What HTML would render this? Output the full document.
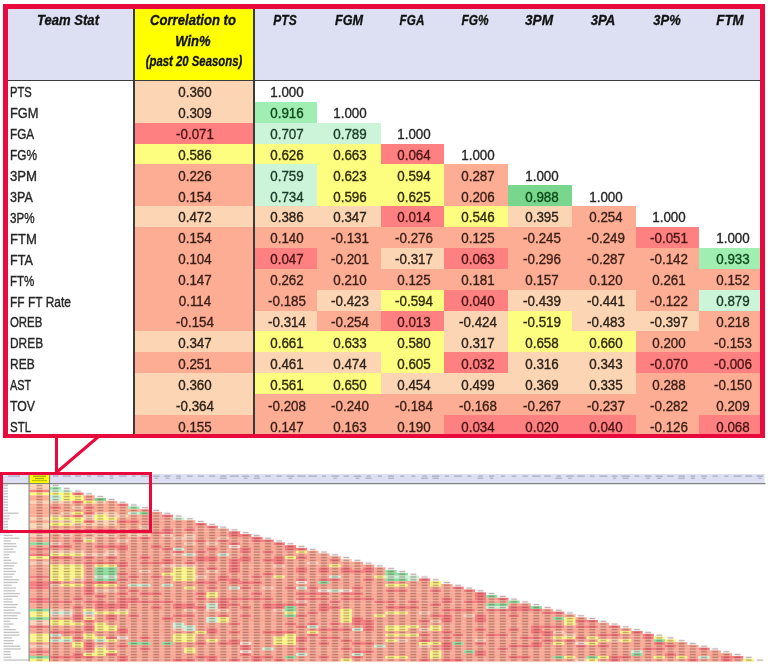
<!DOCTYPE html><html><head><meta charset="utf-8"><style>
html,body{margin:0;padding:0;background:#fff;}
body{width:768px;height:664px;position:relative;overflow:hidden;font-family:"Liberation Sans",sans-serif;}
.a{position:absolute;}
.t{position:absolute;white-space:nowrap;font-size:14px;-webkit-text-stroke:0.35px currentColor;line-height:20px;text-align:center;}
.l{position:absolute;white-space:nowrap;color:#262626;font-size:14px;-webkit-text-stroke:0.35px currentColor;line-height:20px;left:9px;transform-origin:0 50%;}
.h{position:absolute;white-space:nowrap;color:#111;font-size:14px;-webkit-text-stroke:0.3px currentColor;font-weight:bold;font-style:italic;text-align:center;line-height:20px;}

#wrap{position:absolute;left:0;top:0;width:768px;height:664px;filter:blur(0.35px);}
</style></head><body><div id="wrap">
<div class="a" style="left:8px;top:9px;width:752px;height:71.5px;background:#DCE0F2"></div>
<div class="a" style="left:134.5px;top:9px;width:118.5px;height:71.5px;background:#FFFF00"></div>
<div class="a" style="left:134.5px;top:81.00px;width:118.5px;height:20.92px;background:#FCD5B4"></div>
<div class="a" style="left:134.5px;top:101.87px;width:118.5px;height:20.92px;background:#FCD5B4"></div>
<div class="a" style="left:254.50px;top:101.87px;width:62.70px;height:20.92px;background:#A0EEB2"></div>
<div class="a" style="left:134.5px;top:122.74px;width:118.5px;height:20.92px;background:#FF8080"></div>
<div class="a" style="left:254.50px;top:122.74px;width:62.70px;height:20.92px;background:#CBF4D9"></div>
<div class="a" style="left:317.20px;top:122.74px;width:63.60px;height:20.92px;background:#CBF4D9"></div>
<div class="a" style="left:134.5px;top:143.61px;width:118.5px;height:20.92px;background:#FDFD80"></div>
<div class="a" style="left:254.50px;top:143.61px;width:62.70px;height:20.92px;background:#FDFD80"></div>
<div class="a" style="left:317.20px;top:143.61px;width:63.60px;height:20.92px;background:#FDFD80"></div>
<div class="a" style="left:380.80px;top:143.61px;width:63.60px;height:20.92px;background:#FF8080"></div>
<div class="a" style="left:134.5px;top:164.48px;width:118.5px;height:20.92px;background:#FCAD94"></div>
<div class="a" style="left:254.50px;top:164.48px;width:62.70px;height:20.92px;background:#CBF4D9"></div>
<div class="a" style="left:317.20px;top:164.48px;width:63.60px;height:20.92px;background:#FDFD80"></div>
<div class="a" style="left:380.80px;top:164.48px;width:63.60px;height:20.92px;background:#FDFD80"></div>
<div class="a" style="left:444.40px;top:164.48px;width:63.90px;height:20.92px;background:#FCAD94"></div>
<div class="a" style="left:134.5px;top:185.35px;width:118.5px;height:20.92px;background:#FCAD94"></div>
<div class="a" style="left:254.50px;top:185.35px;width:62.70px;height:20.92px;background:#CBF4D9"></div>
<div class="a" style="left:317.20px;top:185.35px;width:63.60px;height:20.92px;background:#FDFD80"></div>
<div class="a" style="left:380.80px;top:185.35px;width:63.60px;height:20.92px;background:#FDFD80"></div>
<div class="a" style="left:444.40px;top:185.35px;width:63.90px;height:20.92px;background:#FCAD94"></div>
<div class="a" style="left:508.30px;top:185.35px;width:63.90px;height:20.92px;background:#78D78C"></div>
<div class="a" style="left:134.5px;top:206.22px;width:118.5px;height:20.92px;background:#FCD5B4"></div>
<div class="a" style="left:254.50px;top:206.22px;width:62.70px;height:20.92px;background:#FCD5B4"></div>
<div class="a" style="left:317.20px;top:206.22px;width:63.60px;height:20.92px;background:#FCD5B4"></div>
<div class="a" style="left:380.80px;top:206.22px;width:63.60px;height:20.92px;background:#FF8080"></div>
<div class="a" style="left:444.40px;top:206.22px;width:63.90px;height:20.92px;background:#FDFD80"></div>
<div class="a" style="left:508.30px;top:206.22px;width:63.90px;height:20.92px;background:#FCD5B4"></div>
<div class="a" style="left:572.20px;top:206.22px;width:63.70px;height:20.92px;background:#FCAD94"></div>
<div class="a" style="left:134.5px;top:227.09px;width:118.5px;height:20.92px;background:#FCAD94"></div>
<div class="a" style="left:254.50px;top:227.09px;width:62.70px;height:20.92px;background:#FCAD94"></div>
<div class="a" style="left:317.20px;top:227.09px;width:63.60px;height:20.92px;background:#FCAD94"></div>
<div class="a" style="left:380.80px;top:227.09px;width:63.60px;height:20.92px;background:#FCAD94"></div>
<div class="a" style="left:444.40px;top:227.09px;width:63.90px;height:20.92px;background:#FCAD94"></div>
<div class="a" style="left:508.30px;top:227.09px;width:63.90px;height:20.92px;background:#FCAD94"></div>
<div class="a" style="left:572.20px;top:227.09px;width:63.70px;height:20.92px;background:#FCAD94"></div>
<div class="a" style="left:635.90px;top:227.09px;width:63.10px;height:20.92px;background:#FF8080"></div>
<div class="a" style="left:134.5px;top:247.96px;width:118.5px;height:20.92px;background:#FCAD94"></div>
<div class="a" style="left:254.50px;top:247.96px;width:62.70px;height:20.92px;background:#FF8080"></div>
<div class="a" style="left:317.20px;top:247.96px;width:63.60px;height:20.92px;background:#FCAD94"></div>
<div class="a" style="left:380.80px;top:247.96px;width:63.60px;height:20.92px;background:#FCD5B4"></div>
<div class="a" style="left:444.40px;top:247.96px;width:63.90px;height:20.92px;background:#FF8080"></div>
<div class="a" style="left:508.30px;top:247.96px;width:63.90px;height:20.92px;background:#FCAD94"></div>
<div class="a" style="left:572.20px;top:247.96px;width:63.70px;height:20.92px;background:#FCAD94"></div>
<div class="a" style="left:635.90px;top:247.96px;width:63.10px;height:20.92px;background:#FCAD94"></div>
<div class="a" style="left:699.00px;top:247.96px;width:61.00px;height:20.92px;background:#A0EEB2"></div>
<div class="a" style="left:134.5px;top:268.83px;width:118.5px;height:20.92px;background:#FCAD94"></div>
<div class="a" style="left:254.50px;top:268.83px;width:62.70px;height:20.92px;background:#FCAD94"></div>
<div class="a" style="left:317.20px;top:268.83px;width:63.60px;height:20.92px;background:#FCAD94"></div>
<div class="a" style="left:380.80px;top:268.83px;width:63.60px;height:20.92px;background:#FCAD94"></div>
<div class="a" style="left:444.40px;top:268.83px;width:63.90px;height:20.92px;background:#FCAD94"></div>
<div class="a" style="left:508.30px;top:268.83px;width:63.90px;height:20.92px;background:#FCAD94"></div>
<div class="a" style="left:572.20px;top:268.83px;width:63.70px;height:20.92px;background:#FCAD94"></div>
<div class="a" style="left:635.90px;top:268.83px;width:63.10px;height:20.92px;background:#FCAD94"></div>
<div class="a" style="left:699.00px;top:268.83px;width:61.00px;height:20.92px;background:#FCAD94"></div>
<div class="a" style="left:134.5px;top:289.70px;width:118.5px;height:20.92px;background:#FCAD94"></div>
<div class="a" style="left:254.50px;top:289.70px;width:62.70px;height:20.92px;background:#FCAD94"></div>
<div class="a" style="left:317.20px;top:289.70px;width:63.60px;height:20.92px;background:#FCD5B4"></div>
<div class="a" style="left:380.80px;top:289.70px;width:63.60px;height:20.92px;background:#FDFD80"></div>
<div class="a" style="left:444.40px;top:289.70px;width:63.90px;height:20.92px;background:#FF8080"></div>
<div class="a" style="left:508.30px;top:289.70px;width:63.90px;height:20.92px;background:#FCD5B4"></div>
<div class="a" style="left:572.20px;top:289.70px;width:63.70px;height:20.92px;background:#FCD5B4"></div>
<div class="a" style="left:635.90px;top:289.70px;width:63.10px;height:20.92px;background:#FCAD94"></div>
<div class="a" style="left:699.00px;top:289.70px;width:61.00px;height:20.92px;background:#CBF4D9"></div>
<div class="a" style="left:134.5px;top:310.57px;width:118.5px;height:20.92px;background:#FCAD94"></div>
<div class="a" style="left:254.50px;top:310.57px;width:62.70px;height:20.92px;background:#FCD5B4"></div>
<div class="a" style="left:317.20px;top:310.57px;width:63.60px;height:20.92px;background:#FCAD94"></div>
<div class="a" style="left:380.80px;top:310.57px;width:63.60px;height:20.92px;background:#FF8080"></div>
<div class="a" style="left:444.40px;top:310.57px;width:63.90px;height:20.92px;background:#FCD5B4"></div>
<div class="a" style="left:508.30px;top:310.57px;width:63.90px;height:20.92px;background:#FDFD80"></div>
<div class="a" style="left:572.20px;top:310.57px;width:63.70px;height:20.92px;background:#FCD5B4"></div>
<div class="a" style="left:635.90px;top:310.57px;width:63.10px;height:20.92px;background:#FCD5B4"></div>
<div class="a" style="left:699.00px;top:310.57px;width:61.00px;height:20.92px;background:#FCAD94"></div>
<div class="a" style="left:134.5px;top:331.44px;width:118.5px;height:20.92px;background:#FCD5B4"></div>
<div class="a" style="left:254.50px;top:331.44px;width:62.70px;height:20.92px;background:#FDFD80"></div>
<div class="a" style="left:317.20px;top:331.44px;width:63.60px;height:20.92px;background:#FDFD80"></div>
<div class="a" style="left:380.80px;top:331.44px;width:63.60px;height:20.92px;background:#FDFD80"></div>
<div class="a" style="left:444.40px;top:331.44px;width:63.90px;height:20.92px;background:#FCD5B4"></div>
<div class="a" style="left:508.30px;top:331.44px;width:63.90px;height:20.92px;background:#FDFD80"></div>
<div class="a" style="left:572.20px;top:331.44px;width:63.70px;height:20.92px;background:#FDFD80"></div>
<div class="a" style="left:635.90px;top:331.44px;width:63.10px;height:20.92px;background:#FCAD94"></div>
<div class="a" style="left:699.00px;top:331.44px;width:61.00px;height:20.92px;background:#FCAD94"></div>
<div class="a" style="left:134.5px;top:352.31px;width:118.5px;height:20.92px;background:#FCAD94"></div>
<div class="a" style="left:254.50px;top:352.31px;width:62.70px;height:20.92px;background:#FCD5B4"></div>
<div class="a" style="left:317.20px;top:352.31px;width:63.60px;height:20.92px;background:#FCD5B4"></div>
<div class="a" style="left:380.80px;top:352.31px;width:63.60px;height:20.92px;background:#FDFD80"></div>
<div class="a" style="left:444.40px;top:352.31px;width:63.90px;height:20.92px;background:#FF8080"></div>
<div class="a" style="left:508.30px;top:352.31px;width:63.90px;height:20.92px;background:#FCD5B4"></div>
<div class="a" style="left:572.20px;top:352.31px;width:63.70px;height:20.92px;background:#FCD5B4"></div>
<div class="a" style="left:635.90px;top:352.31px;width:63.10px;height:20.92px;background:#FF8080"></div>
<div class="a" style="left:699.00px;top:352.31px;width:61.00px;height:20.92px;background:#FF8080"></div>
<div class="a" style="left:134.5px;top:373.18px;width:118.5px;height:20.92px;background:#FCD5B4"></div>
<div class="a" style="left:254.50px;top:373.18px;width:62.70px;height:20.92px;background:#FDFD80"></div>
<div class="a" style="left:317.20px;top:373.18px;width:63.60px;height:20.92px;background:#FDFD80"></div>
<div class="a" style="left:380.80px;top:373.18px;width:63.60px;height:20.92px;background:#FCD5B4"></div>
<div class="a" style="left:444.40px;top:373.18px;width:63.90px;height:20.92px;background:#FCD5B4"></div>
<div class="a" style="left:508.30px;top:373.18px;width:63.90px;height:20.92px;background:#FCD5B4"></div>
<div class="a" style="left:572.20px;top:373.18px;width:63.70px;height:20.92px;background:#FCD5B4"></div>
<div class="a" style="left:635.90px;top:373.18px;width:63.10px;height:20.92px;background:#FCAD94"></div>
<div class="a" style="left:699.00px;top:373.18px;width:61.00px;height:20.92px;background:#FCAD94"></div>
<div class="a" style="left:134.5px;top:394.05px;width:118.5px;height:20.92px;background:#FCD5B4"></div>
<div class="a" style="left:254.50px;top:394.05px;width:62.70px;height:20.92px;background:#FCAD94"></div>
<div class="a" style="left:317.20px;top:394.05px;width:63.60px;height:20.92px;background:#FCAD94"></div>
<div class="a" style="left:380.80px;top:394.05px;width:63.60px;height:20.92px;background:#FCAD94"></div>
<div class="a" style="left:444.40px;top:394.05px;width:63.90px;height:20.92px;background:#FCAD94"></div>
<div class="a" style="left:508.30px;top:394.05px;width:63.90px;height:20.92px;background:#FCAD94"></div>
<div class="a" style="left:572.20px;top:394.05px;width:63.70px;height:20.92px;background:#FCAD94"></div>
<div class="a" style="left:635.90px;top:394.05px;width:63.10px;height:20.92px;background:#FCAD94"></div>
<div class="a" style="left:699.00px;top:394.05px;width:61.00px;height:20.92px;background:#FCAD94"></div>
<div class="a" style="left:134.5px;top:414.92px;width:118.5px;height:20.92px;background:#FCAD94"></div>
<div class="a" style="left:254.50px;top:414.92px;width:62.70px;height:20.92px;background:#FCAD94"></div>
<div class="a" style="left:317.20px;top:414.92px;width:63.60px;height:20.92px;background:#FCAD94"></div>
<div class="a" style="left:380.80px;top:414.92px;width:63.60px;height:20.92px;background:#FCAD94"></div>
<div class="a" style="left:444.40px;top:414.92px;width:63.90px;height:20.92px;background:#FF8080"></div>
<div class="a" style="left:508.30px;top:414.92px;width:63.90px;height:20.92px;background:#FF8080"></div>
<div class="a" style="left:572.20px;top:414.92px;width:63.70px;height:20.92px;background:#FF8080"></div>
<div class="a" style="left:635.90px;top:414.92px;width:63.10px;height:20.92px;background:#FCAD94"></div>
<div class="a" style="left:699.00px;top:414.92px;width:61.00px;height:20.92px;background:#FF8080"></div>
<div class="a" style="left:8px;top:79.8px;width:752px;height:1.3px;background:#3a3a3a"></div>
<div class="a" style="left:133px;top:9px;width:1.5px;height:425px;background:#3a3a3a"></div>
<div class="a" style="left:253px;top:9px;width:1.5px;height:425px;background:#3a3a3a"></div>
<div class="h" style="left:-31.70px;width:200px;top:9.50px;transform:scaleX(0.9335)">Team Stat</div>
<div class="h" style="left:93.45px;width:200px;top:9.50px;transform:scaleX(0.9358)">Correlation to</div>
<div class="h" style="left:93.05px;width:200px;top:31.10px;transform:scaleX(0.9291)">Win%</div>
<div class="h" style="left:93.55px;width:200px;top:50.70px;transform:scaleX(0.8110)">(past 20 Seasons)</div>
<div class="h" style="left:184.75px;width:200px;top:9.50px;transform:scaleX(0.8576)">PTS</div>
<div class="h" style="left:248.70px;width:200px;top:9.50px;transform:scaleX(0.9032)">FGM</div>
<div class="h" style="left:312.10px;width:200px;top:9.50px;transform:scaleX(0.8374)">FGA</div>
<div class="h" style="left:374.95px;width:200px;top:9.50px;transform:scaleX(0.8513)">FG%</div>
<div class="h" style="left:438.65px;width:200px;top:9.50px;transform:scaleX(0.9742)">3PM</div>
<div class="h" style="left:503.05px;width:200px;top:9.50px;transform:scaleX(0.9412)">3PA</div>
<div class="h" style="left:566.55px;width:200px;top:9.50px;transform:scaleX(0.9259)">3P%</div>
<div class="h" style="left:630.00px;width:200px;top:9.50px;transform:scaleX(0.9564)">FTM</div>
<div class="l" style="left:9.74px;top:82.30px;transform:scaleX(0.7982)">PTS</div>
<div class="t" style="left:134.50px;width:120px;top:81.90px;color:#2e2218;transform:scaleX(0.955)">0.360</div>
<div class="t" style="left:246.65px;width:80px;top:81.90px;color:#262626;transform:scaleX(0.955)">1.000</div>
<div class="l" style="left:9.74px;top:103.22px;transform:scaleX(0.9156)">FGM</div>
<div class="t" style="left:134.50px;width:120px;top:102.82px;color:#2e2218;transform:scaleX(0.955)">0.309</div>
<div class="t" style="left:246.65px;width:80px;top:102.82px;color:#0e4a1e;transform:scaleX(0.955)">0.916</div>
<div class="t" style="left:310.30px;width:80px;top:102.82px;color:#262626;transform:scaleX(0.955)">1.000</div>
<div class="l" style="left:9.74px;top:124.14px;transform:scaleX(0.8404)">FGA</div>
<div class="t" style="left:134.50px;width:120px;top:123.74px;color:#4a1414;transform:scaleX(0.955)">-0.071</div>
<div class="t" style="left:246.65px;width:80px;top:123.74px;color:#1a3a28;transform:scaleX(0.955)">0.707</div>
<div class="t" style="left:310.30px;width:80px;top:123.74px;color:#1a3a28;transform:scaleX(0.955)">0.789</div>
<div class="t" style="left:373.70px;width:80px;top:123.74px;color:#262626;transform:scaleX(0.955)">1.000</div>
<div class="l" style="left:9.74px;top:145.06px;transform:scaleX(0.8506)">FG%</div>
<div class="t" style="left:134.50px;width:120px;top:144.66px;color:#2e2a08;transform:scaleX(0.955)">0.586</div>
<div class="t" style="left:246.65px;width:80px;top:144.66px;color:#2e2a08;transform:scaleX(0.955)">0.626</div>
<div class="t" style="left:310.30px;width:80px;top:144.66px;color:#2e2a08;transform:scaleX(0.955)">0.663</div>
<div class="t" style="left:373.70px;width:80px;top:144.66px;color:#4a1414;transform:scaleX(0.955)">0.064</div>
<div class="t" style="left:437.85px;width:80px;top:144.66px;color:#262626;transform:scaleX(0.955)">1.000</div>
<div class="l" style="left:9.74px;top:165.98px;transform:scaleX(0.9414)">3PM</div>
<div class="t" style="left:134.50px;width:120px;top:165.58px;color:#3a1e16;transform:scaleX(0.955)">0.226</div>
<div class="t" style="left:246.65px;width:80px;top:165.58px;color:#1a3a28;transform:scaleX(0.955)">0.759</div>
<div class="t" style="left:310.30px;width:80px;top:165.58px;color:#2e2a08;transform:scaleX(0.955)">0.623</div>
<div class="t" style="left:373.70px;width:80px;top:165.58px;color:#2e2a08;transform:scaleX(0.955)">0.594</div>
<div class="t" style="left:437.85px;width:80px;top:165.58px;color:#3a1e16;transform:scaleX(0.955)">0.287</div>
<div class="t" style="left:501.65px;width:80px;top:165.58px;color:#262626;transform:scaleX(0.955)">1.000</div>
<div class="l" style="left:9.74px;top:186.90px;transform:scaleX(0.8961)">3PA</div>
<div class="t" style="left:134.50px;width:120px;top:186.50px;color:#3a1e16;transform:scaleX(0.955)">0.154</div>
<div class="t" style="left:246.65px;width:80px;top:186.50px;color:#1a3a28;transform:scaleX(0.955)">0.734</div>
<div class="t" style="left:310.30px;width:80px;top:186.50px;color:#2e2a08;transform:scaleX(0.955)">0.596</div>
<div class="t" style="left:373.70px;width:80px;top:186.50px;color:#2e2a08;transform:scaleX(0.955)">0.625</div>
<div class="t" style="left:437.85px;width:80px;top:186.50px;color:#3a1e16;transform:scaleX(0.955)">0.206</div>
<div class="t" style="left:501.65px;width:80px;top:186.50px;color:#0b4a1a;transform:scaleX(0.955)">0.988</div>
<div class="t" style="left:565.55px;width:80px;top:186.50px;color:#262626;transform:scaleX(0.955)">1.000</div>
<div class="l" style="left:9.74px;top:207.82px;transform:scaleX(0.8333)">3P%</div>
<div class="t" style="left:134.50px;width:120px;top:207.42px;color:#2e2218;transform:scaleX(0.955)">0.472</div>
<div class="t" style="left:246.65px;width:80px;top:207.42px;color:#2e2218;transform:scaleX(0.955)">0.386</div>
<div class="t" style="left:310.30px;width:80px;top:207.42px;color:#2e2218;transform:scaleX(0.955)">0.347</div>
<div class="t" style="left:373.70px;width:80px;top:207.42px;color:#4a1414;transform:scaleX(0.955)">0.014</div>
<div class="t" style="left:437.85px;width:80px;top:207.42px;color:#2e2a08;transform:scaleX(0.955)">0.546</div>
<div class="t" style="left:501.65px;width:80px;top:207.42px;color:#2e2218;transform:scaleX(0.955)">0.395</div>
<div class="t" style="left:565.55px;width:80px;top:207.42px;color:#3a1e16;transform:scaleX(0.955)">0.254</div>
<div class="t" style="left:629.05px;width:80px;top:207.42px;color:#262626;transform:scaleX(0.955)">1.000</div>
<div class="l" style="left:9.74px;top:228.74px;transform:scaleX(0.9318)">FTM</div>
<div class="t" style="left:134.50px;width:120px;top:228.34px;color:#3a1e16;transform:scaleX(0.955)">0.154</div>
<div class="t" style="left:246.65px;width:80px;top:228.34px;color:#3a1e16;transform:scaleX(0.955)">0.140</div>
<div class="t" style="left:310.30px;width:80px;top:228.34px;color:#3a1e16;transform:scaleX(0.955)">-0.131</div>
<div class="t" style="left:373.70px;width:80px;top:228.34px;color:#3a1e16;transform:scaleX(0.955)">-0.276</div>
<div class="t" style="left:437.85px;width:80px;top:228.34px;color:#3a1e16;transform:scaleX(0.955)">0.125</div>
<div class="t" style="left:501.65px;width:80px;top:228.34px;color:#3a1e16;transform:scaleX(0.955)">-0.245</div>
<div class="t" style="left:565.55px;width:80px;top:228.34px;color:#3a1e16;transform:scaleX(0.955)">-0.249</div>
<div class="t" style="left:629.05px;width:80px;top:228.34px;color:#4a1414;transform:scaleX(0.955)">-0.051</div>
<div class="t" style="left:692.60px;width:80px;top:228.34px;color:#262626;transform:scaleX(0.955)">1.000</div>
<div class="l" style="left:9.74px;top:249.66px;transform:scaleX(0.9007)">FTA</div>
<div class="t" style="left:134.50px;width:120px;top:249.26px;color:#3a1e16;transform:scaleX(0.955)">0.104</div>
<div class="t" style="left:246.65px;width:80px;top:249.26px;color:#4a1414;transform:scaleX(0.955)">0.047</div>
<div class="t" style="left:310.30px;width:80px;top:249.26px;color:#3a1e16;transform:scaleX(0.955)">-0.201</div>
<div class="t" style="left:373.70px;width:80px;top:249.26px;color:#2e2218;transform:scaleX(0.955)">-0.317</div>
<div class="t" style="left:437.85px;width:80px;top:249.26px;color:#4a1414;transform:scaleX(0.955)">0.063</div>
<div class="t" style="left:501.65px;width:80px;top:249.26px;color:#3a1e16;transform:scaleX(0.955)">-0.296</div>
<div class="t" style="left:565.55px;width:80px;top:249.26px;color:#3a1e16;transform:scaleX(0.955)">-0.287</div>
<div class="t" style="left:629.05px;width:80px;top:249.26px;color:#3a1e16;transform:scaleX(0.955)">-0.142</div>
<div class="t" style="left:692.60px;width:80px;top:249.26px;color:#0e4a1e;transform:scaleX(0.955)">0.933</div>
<div class="l" style="left:9.74px;top:270.58px;transform:scaleX(0.8238)">FT%</div>
<div class="t" style="left:134.50px;width:120px;top:270.18px;color:#3a1e16;transform:scaleX(0.955)">0.147</div>
<div class="t" style="left:246.65px;width:80px;top:270.18px;color:#3a1e16;transform:scaleX(0.955)">0.262</div>
<div class="t" style="left:310.30px;width:80px;top:270.18px;color:#3a1e16;transform:scaleX(0.955)">0.210</div>
<div class="t" style="left:373.70px;width:80px;top:270.18px;color:#3a1e16;transform:scaleX(0.955)">0.125</div>
<div class="t" style="left:437.85px;width:80px;top:270.18px;color:#3a1e16;transform:scaleX(0.955)">0.181</div>
<div class="t" style="left:501.65px;width:80px;top:270.18px;color:#3a1e16;transform:scaleX(0.955)">0.157</div>
<div class="t" style="left:565.55px;width:80px;top:270.18px;color:#3a1e16;transform:scaleX(0.955)">0.120</div>
<div class="t" style="left:629.05px;width:80px;top:270.18px;color:#3a1e16;transform:scaleX(0.955)">0.261</div>
<div class="t" style="left:692.60px;width:80px;top:270.18px;color:#3a1e16;transform:scaleX(0.955)">0.152</div>
<div class="l" style="left:9.74px;top:291.50px;transform:scaleX(0.8545)">FF FT Rate</div>
<div class="t" style="left:134.50px;width:120px;top:291.10px;color:#3a1e16;transform:scaleX(0.955)">0.114</div>
<div class="t" style="left:246.65px;width:80px;top:291.10px;color:#3a1e16;transform:scaleX(0.955)">-0.185</div>
<div class="t" style="left:310.30px;width:80px;top:291.10px;color:#2e2218;transform:scaleX(0.955)">-0.423</div>
<div class="t" style="left:373.70px;width:80px;top:291.10px;color:#2e2a08;transform:scaleX(0.955)">-0.594</div>
<div class="t" style="left:437.85px;width:80px;top:291.10px;color:#4a1414;transform:scaleX(0.955)">0.040</div>
<div class="t" style="left:501.65px;width:80px;top:291.10px;color:#2e2218;transform:scaleX(0.955)">-0.439</div>
<div class="t" style="left:565.55px;width:80px;top:291.10px;color:#2e2218;transform:scaleX(0.955)">-0.441</div>
<div class="t" style="left:629.05px;width:80px;top:291.10px;color:#3a1e16;transform:scaleX(0.955)">-0.122</div>
<div class="t" style="left:692.60px;width:80px;top:291.10px;color:#1a3a28;transform:scaleX(0.955)">0.879</div>
<div class="l" style="left:9.74px;top:312.42px;transform:scaleX(0.8129)">OREB</div>
<div class="t" style="left:134.50px;width:120px;top:312.02px;color:#3a1e16;transform:scaleX(0.955)">-0.154</div>
<div class="t" style="left:246.65px;width:80px;top:312.02px;color:#2e2218;transform:scaleX(0.955)">-0.314</div>
<div class="t" style="left:310.30px;width:80px;top:312.02px;color:#3a1e16;transform:scaleX(0.955)">-0.254</div>
<div class="t" style="left:373.70px;width:80px;top:312.02px;color:#4a1414;transform:scaleX(0.955)">0.013</div>
<div class="t" style="left:437.85px;width:80px;top:312.02px;color:#2e2218;transform:scaleX(0.955)">-0.424</div>
<div class="t" style="left:501.65px;width:80px;top:312.02px;color:#2e2a08;transform:scaleX(0.955)">-0.519</div>
<div class="t" style="left:565.55px;width:80px;top:312.02px;color:#2e2218;transform:scaleX(0.955)">-0.483</div>
<div class="t" style="left:629.05px;width:80px;top:312.02px;color:#2e2218;transform:scaleX(0.955)">-0.397</div>
<div class="t" style="left:692.60px;width:80px;top:312.02px;color:#3a1e16;transform:scaleX(0.955)">0.218</div>
<div class="l" style="left:9.74px;top:333.34px;transform:scaleX(0.8513)">DREB</div>
<div class="t" style="left:134.50px;width:120px;top:332.94px;color:#2e2218;transform:scaleX(0.955)">0.347</div>
<div class="t" style="left:246.65px;width:80px;top:332.94px;color:#2e2a08;transform:scaleX(0.955)">0.661</div>
<div class="t" style="left:310.30px;width:80px;top:332.94px;color:#2e2a08;transform:scaleX(0.955)">0.633</div>
<div class="t" style="left:373.70px;width:80px;top:332.94px;color:#2e2a08;transform:scaleX(0.955)">0.580</div>
<div class="t" style="left:437.85px;width:80px;top:332.94px;color:#2e2218;transform:scaleX(0.955)">0.317</div>
<div class="t" style="left:501.65px;width:80px;top:332.94px;color:#2e2a08;transform:scaleX(0.955)">0.658</div>
<div class="t" style="left:565.55px;width:80px;top:332.94px;color:#2e2a08;transform:scaleX(0.955)">0.660</div>
<div class="t" style="left:629.05px;width:80px;top:332.94px;color:#3a1e16;transform:scaleX(0.955)">0.200</div>
<div class="t" style="left:692.60px;width:80px;top:332.94px;color:#3a1e16;transform:scaleX(0.955)">-0.153</div>
<div class="l" style="left:9.74px;top:354.26px;transform:scaleX(0.8555)">REB</div>
<div class="t" style="left:134.50px;width:120px;top:353.86px;color:#3a1e16;transform:scaleX(0.955)">0.251</div>
<div class="t" style="left:246.65px;width:80px;top:353.86px;color:#2e2218;transform:scaleX(0.955)">0.461</div>
<div class="t" style="left:310.30px;width:80px;top:353.86px;color:#2e2218;transform:scaleX(0.955)">0.474</div>
<div class="t" style="left:373.70px;width:80px;top:353.86px;color:#2e2a08;transform:scaleX(0.955)">0.605</div>
<div class="t" style="left:437.85px;width:80px;top:353.86px;color:#4a1414;transform:scaleX(0.955)">0.032</div>
<div class="t" style="left:501.65px;width:80px;top:353.86px;color:#2e2218;transform:scaleX(0.955)">0.316</div>
<div class="t" style="left:565.55px;width:80px;top:353.86px;color:#2e2218;transform:scaleX(0.955)">0.343</div>
<div class="t" style="left:629.05px;width:80px;top:353.86px;color:#4a1414;transform:scaleX(0.955)">-0.070</div>
<div class="t" style="left:692.60px;width:80px;top:353.86px;color:#4a1414;transform:scaleX(0.955)">-0.006</div>
<div class="l" style="left:9.74px;top:375.18px;transform:scaleX(0.7779)">AST</div>
<div class="t" style="left:134.50px;width:120px;top:374.78px;color:#2e2218;transform:scaleX(0.955)">0.360</div>
<div class="t" style="left:246.65px;width:80px;top:374.78px;color:#2e2a08;transform:scaleX(0.955)">0.561</div>
<div class="t" style="left:310.30px;width:80px;top:374.78px;color:#2e2a08;transform:scaleX(0.955)">0.650</div>
<div class="t" style="left:373.70px;width:80px;top:374.78px;color:#2e2218;transform:scaleX(0.955)">0.454</div>
<div class="t" style="left:437.85px;width:80px;top:374.78px;color:#2e2218;transform:scaleX(0.955)">0.499</div>
<div class="t" style="left:501.65px;width:80px;top:374.78px;color:#2e2218;transform:scaleX(0.955)">0.369</div>
<div class="t" style="left:565.55px;width:80px;top:374.78px;color:#2e2218;transform:scaleX(0.955)">0.335</div>
<div class="t" style="left:629.05px;width:80px;top:374.78px;color:#3a1e16;transform:scaleX(0.955)">0.288</div>
<div class="t" style="left:692.60px;width:80px;top:374.78px;color:#3a1e16;transform:scaleX(0.955)">-0.150</div>
<div class="l" style="left:9.74px;top:396.10px;transform:scaleX(0.8761)">TOV</div>
<div class="t" style="left:134.50px;width:120px;top:395.70px;color:#2e2218;transform:scaleX(0.955)">-0.364</div>
<div class="t" style="left:246.65px;width:80px;top:395.70px;color:#3a1e16;transform:scaleX(0.955)">-0.208</div>
<div class="t" style="left:310.30px;width:80px;top:395.70px;color:#3a1e16;transform:scaleX(0.955)">-0.240</div>
<div class="t" style="left:373.70px;width:80px;top:395.70px;color:#3a1e16;transform:scaleX(0.955)">-0.184</div>
<div class="t" style="left:437.85px;width:80px;top:395.70px;color:#3a1e16;transform:scaleX(0.955)">-0.168</div>
<div class="t" style="left:501.65px;width:80px;top:395.70px;color:#3a1e16;transform:scaleX(0.955)">-0.267</div>
<div class="t" style="left:565.55px;width:80px;top:395.70px;color:#3a1e16;transform:scaleX(0.955)">-0.237</div>
<div class="t" style="left:629.05px;width:80px;top:395.70px;color:#3a1e16;transform:scaleX(0.955)">-0.282</div>
<div class="t" style="left:692.60px;width:80px;top:395.70px;color:#3a1e16;transform:scaleX(0.955)">0.209</div>
<div class="l" style="left:9.74px;top:417.02px;transform:scaleX(0.8232)">STL</div>
<div class="t" style="left:134.50px;width:120px;top:416.62px;color:#3a1e16;transform:scaleX(0.955)">0.155</div>
<div class="t" style="left:246.65px;width:80px;top:416.62px;color:#3a1e16;transform:scaleX(0.955)">0.147</div>
<div class="t" style="left:310.30px;width:80px;top:416.62px;color:#3a1e16;transform:scaleX(0.955)">0.163</div>
<div class="t" style="left:373.70px;width:80px;top:416.62px;color:#3a1e16;transform:scaleX(0.955)">0.190</div>
<div class="t" style="left:437.85px;width:80px;top:416.62px;color:#4a1414;transform:scaleX(0.955)">0.034</div>
<div class="t" style="left:501.65px;width:80px;top:416.62px;color:#4a1414;transform:scaleX(0.955)">0.020</div>
<div class="t" style="left:565.55px;width:80px;top:416.62px;color:#4a1414;transform:scaleX(0.955)">0.040</div>
<div class="t" style="left:629.05px;width:80px;top:416.62px;color:#3a1e16;transform:scaleX(0.955)">-0.126</div>
<div class="t" style="left:692.60px;width:80px;top:416.62px;color:#4a1414;transform:scaleX(0.955)">0.068</div>
<div class="a" style="left:3px;top:4px;width:752px;height:425px;border-style:solid;border-color:#E80A3C;border-width:5px 5px 4px 5px;"></div>
<svg class="a" style="left:0;top:0" width="768" height="664"><line x1="56.5" y1="437" x2="56.5" y2="474" stroke="#E80A3C" stroke-width="3"/><line x1="98" y1="437" x2="57" y2="472" stroke="#E80A3C" stroke-width="3"/></svg>
<svg class="a" style="left:0;top:0;filter:blur(0.5px)" width="768" height="664">
<defs>
<pattern id="pb" patternUnits="userSpaceOnUse" x="50.00" y="484.20" width="11.180" height="2.770"><rect x="2.59" y="0.69" width="6" height="1.4" fill="#5a2424" opacity="0.38"/></pattern>
<pattern id="pc" patternUnits="userSpaceOnUse" x="29.5" y="484.20" width="20" height="2.770"><rect x="7" y="0.69" width="6" height="1.4" fill="#5a2424" opacity="0.38"/></pattern>
</defs>
<rect x="1" y="474" width="763.52" height="9.2" fill="#DCE0F2"/>
<rect x="29.5" y="474" width="20" height="9.2" fill="#FFFF00"/>
<rect x="1" y="483.2" width="764.52" height="1" fill="#666"/>
<rect x="29.5" y="484.20" width="20" height="2.82" fill="#FCD5B4"/>
<rect x="50.00" y="484.20" width="11.18" height="2.77" fill="url(#pb)"/>
<rect x="3.5" y="484.88" width="4.5" height="1.3" fill="#404040" opacity="0.32"/>
<rect x="29.5" y="486.97" width="20" height="2.82" fill="#FCD5B4"/>
<rect x="50.00" y="486.97" width="11.28" height="2.87" fill="#A0EEB2"/>
<rect x="50.00" y="486.97" width="22.36" height="2.77" fill="url(#pb)"/>
<rect x="3.5" y="487.65" width="4.5" height="1.3" fill="#404040" opacity="0.32"/>
<rect x="29.5" y="489.74" width="20" height="2.82" fill="#FF8080"/>
<rect x="50.00" y="489.74" width="22.46" height="2.87" fill="#CBF4D9"/>
<rect x="50.00" y="489.74" width="33.54" height="2.77" fill="url(#pb)"/>
<rect x="3.5" y="490.43" width="4.5" height="1.3" fill="#404040" opacity="0.32"/>
<rect x="29.5" y="492.51" width="20" height="2.82" fill="#FDFD80"/>
<rect x="50.00" y="492.51" width="22.46" height="2.87" fill="#FDFD80"/>
<rect x="72.36" y="492.51" width="11.28" height="2.87" fill="#FF8080"/>
<rect x="50.00" y="492.51" width="44.72" height="2.77" fill="url(#pb)"/>
<rect x="3.5" y="493.19" width="4.5" height="1.3" fill="#404040" opacity="0.32"/>
<rect x="29.5" y="495.28" width="20" height="2.82" fill="#FCAD94"/>
<rect x="50.00" y="495.28" width="11.28" height="2.87" fill="#CBF4D9"/>
<rect x="61.18" y="495.28" width="22.46" height="2.87" fill="#FDFD80"/>
<rect x="83.54" y="495.28" width="11.28" height="2.87" fill="#FCAD94"/>
<rect x="50.00" y="495.28" width="55.90" height="2.77" fill="url(#pb)"/>
<rect x="3.5" y="495.96" width="4.5" height="1.3" fill="#404040" opacity="0.32"/>
<rect x="29.5" y="498.05" width="20" height="2.82" fill="#FCAD94"/>
<rect x="50.00" y="498.05" width="11.28" height="2.87" fill="#CBF4D9"/>
<rect x="61.18" y="498.05" width="22.46" height="2.87" fill="#FDFD80"/>
<rect x="83.54" y="498.05" width="11.28" height="2.87" fill="#FCAD94"/>
<rect x="94.72" y="498.05" width="11.28" height="2.87" fill="#78D78C"/>
<rect x="50.00" y="498.05" width="67.08" height="2.77" fill="url(#pb)"/>
<rect x="3.5" y="498.74" width="4.5" height="1.3" fill="#404040" opacity="0.32"/>
<rect x="29.5" y="500.82" width="20" height="2.82" fill="#FCD5B4"/>
<rect x="50.00" y="500.82" width="22.46" height="2.87" fill="#FCD5B4"/>
<rect x="72.36" y="500.82" width="11.28" height="2.87" fill="#FF8080"/>
<rect x="83.54" y="500.82" width="11.28" height="2.87" fill="#FDFD80"/>
<rect x="94.72" y="500.82" width="11.28" height="2.87" fill="#FCD5B4"/>
<rect x="105.90" y="500.82" width="11.28" height="2.87" fill="#FCAD94"/>
<rect x="50.00" y="500.82" width="78.26" height="2.77" fill="url(#pb)"/>
<rect x="3.5" y="501.50" width="4.5" height="1.3" fill="#404040" opacity="0.32"/>
<rect x="29.5" y="503.59" width="20" height="2.82" fill="#FCAD94"/>
<rect x="50.00" y="503.59" width="67.18" height="2.87" fill="#FCAD94"/>
<rect x="117.08" y="503.59" width="11.28" height="2.87" fill="#FF8080"/>
<rect x="50.00" y="503.59" width="89.44" height="2.77" fill="url(#pb)"/>
<rect x="3.5" y="504.27" width="4.5" height="1.3" fill="#404040" opacity="0.32"/>
<rect x="29.5" y="506.36" width="20" height="2.82" fill="#FCAD94"/>
<rect x="50.00" y="506.36" width="11.28" height="2.87" fill="#FF8080"/>
<rect x="61.18" y="506.36" width="11.28" height="2.87" fill="#FCAD94"/>
<rect x="72.36" y="506.36" width="11.28" height="2.87" fill="#FCD5B4"/>
<rect x="83.54" y="506.36" width="11.28" height="2.87" fill="#FF8080"/>
<rect x="94.72" y="506.36" width="33.64" height="2.87" fill="#FCAD94"/>
<rect x="128.26" y="506.36" width="11.28" height="2.87" fill="#A0EEB2"/>
<rect x="50.00" y="506.36" width="100.62" height="2.77" fill="url(#pb)"/>
<rect x="3.5" y="507.05" width="4.5" height="1.3" fill="#404040" opacity="0.32"/>
<rect x="29.5" y="509.13" width="20" height="2.82" fill="#FCAD94"/>
<rect x="50.00" y="509.13" width="89.54" height="2.87" fill="#FCAD94"/>
<rect x="139.44" y="509.13" width="11.28" height="2.87" fill="#F9AA96"/>
<rect x="50.00" y="509.13" width="111.80" height="2.77" fill="url(#pb)"/>
<rect x="3.5" y="509.81" width="4.5" height="1.3" fill="#404040" opacity="0.32"/>
<rect x="29.5" y="511.90" width="20" height="2.82" fill="#FCAD94"/>
<rect x="50.00" y="511.90" width="11.28" height="2.87" fill="#FCAD94"/>
<rect x="61.18" y="511.90" width="11.28" height="2.87" fill="#FCD5B4"/>
<rect x="72.36" y="511.90" width="11.28" height="2.87" fill="#FDFD80"/>
<rect x="83.54" y="511.90" width="11.28" height="2.87" fill="#FF8080"/>
<rect x="94.72" y="511.90" width="22.46" height="2.87" fill="#FCD5B4"/>
<rect x="117.08" y="511.90" width="11.28" height="2.87" fill="#FCAD94"/>
<rect x="128.26" y="511.90" width="11.28" height="2.87" fill="#CBF4D9"/>
<rect x="139.44" y="511.90" width="11.28" height="2.87" fill="#8FE0A0"/>
<rect x="150.62" y="511.90" width="11.28" height="2.87" fill="#F9AA96"/>
<rect x="50.00" y="511.90" width="122.98" height="2.77" fill="url(#pb)"/>
<rect x="3.5" y="512.58" width="15.0" height="1.3" fill="#404040" opacity="0.32"/>
<rect x="29.5" y="514.67" width="20" height="2.82" fill="#FCAD94"/>
<rect x="50.00" y="514.67" width="11.28" height="2.87" fill="#FCD5B4"/>
<rect x="61.18" y="514.67" width="11.28" height="2.87" fill="#FCAD94"/>
<rect x="72.36" y="514.67" width="11.28" height="2.87" fill="#FF8080"/>
<rect x="83.54" y="514.67" width="11.28" height="2.87" fill="#FCD5B4"/>
<rect x="94.72" y="514.67" width="11.28" height="2.87" fill="#FDFD80"/>
<rect x="105.90" y="514.67" width="22.46" height="2.87" fill="#FCD5B4"/>
<rect x="128.26" y="514.67" width="11.28" height="2.87" fill="#FCAD94"/>
<rect x="139.44" y="514.67" width="22.46" height="2.87" fill="#F9AA96"/>
<rect x="161.80" y="514.67" width="11.28" height="2.87" fill="#F77E80"/>
<rect x="50.00" y="514.67" width="134.16" height="2.77" fill="url(#pb)"/>
<rect x="3.5" y="515.35" width="6.0" height="1.3" fill="#404040" opacity="0.32"/>
<rect x="29.5" y="517.44" width="20" height="2.82" fill="#FCD5B4"/>
<rect x="50.00" y="517.44" width="33.64" height="2.87" fill="#FDFD80"/>
<rect x="83.54" y="517.44" width="11.28" height="2.87" fill="#FCD5B4"/>
<rect x="94.72" y="517.44" width="22.46" height="2.87" fill="#FDFD80"/>
<rect x="117.08" y="517.44" width="22.46" height="2.87" fill="#FCAD94"/>
<rect x="139.44" y="517.44" width="33.64" height="2.87" fill="#F9AA96"/>
<rect x="172.98" y="517.44" width="11.28" height="2.87" fill="#CDF0D6"/>
<rect x="50.00" y="517.44" width="145.34" height="2.77" fill="url(#pb)"/>
<rect x="3.5" y="518.12" width="6.0" height="1.3" fill="#404040" opacity="0.32"/>
<rect x="29.5" y="520.21" width="20" height="2.82" fill="#FCAD94"/>
<rect x="50.00" y="520.21" width="22.46" height="2.87" fill="#FCD5B4"/>
<rect x="72.36" y="520.21" width="11.28" height="2.87" fill="#FDFD80"/>
<rect x="83.54" y="520.21" width="11.28" height="2.87" fill="#FF8080"/>
<rect x="94.72" y="520.21" width="22.46" height="2.87" fill="#FCD5B4"/>
<rect x="117.08" y="520.21" width="22.46" height="2.87" fill="#FF8080"/>
<rect x="139.44" y="520.21" width="56.00" height="2.87" fill="#F9AA96"/>
<rect x="50.00" y="520.21" width="156.52" height="2.77" fill="url(#pb)"/>
<rect x="3.5" y="520.89" width="4.5" height="1.3" fill="#404040" opacity="0.32"/>
<rect x="29.5" y="522.98" width="20" height="2.82" fill="#FCD5B4"/>
<rect x="50.00" y="522.98" width="22.46" height="2.87" fill="#FDFD80"/>
<rect x="72.36" y="522.98" width="44.82" height="2.87" fill="#FCD5B4"/>
<rect x="117.08" y="522.98" width="22.46" height="2.87" fill="#FCAD94"/>
<rect x="139.44" y="522.98" width="56.00" height="2.87" fill="#F9AA96"/>
<rect x="195.34" y="522.98" width="11.28" height="2.87" fill="#F77E80"/>
<rect x="50.00" y="522.98" width="167.70" height="2.77" fill="url(#pb)"/>
<rect x="3.5" y="523.66" width="4.5" height="1.3" fill="#404040" opacity="0.32"/>
<rect x="29.5" y="525.75" width="20" height="2.82" fill="#FCD5B4"/>
<rect x="50.00" y="525.75" width="89.54" height="2.87" fill="#FCAD94"/>
<rect x="139.44" y="525.75" width="11.28" height="2.87" fill="#FBD0BA"/>
<rect x="150.62" y="525.75" width="56.00" height="2.87" fill="#F9AA96"/>
<rect x="206.52" y="525.75" width="11.28" height="2.87" fill="#F77E80"/>
<rect x="50.00" y="525.75" width="178.88" height="2.77" fill="url(#pb)"/>
<rect x="3.5" y="526.43" width="4.5" height="1.3" fill="#404040" opacity="0.32"/>
<rect x="29.5" y="528.52" width="20" height="2.82" fill="#FCAD94"/>
<rect x="50.00" y="528.52" width="33.64" height="2.87" fill="#FCAD94"/>
<rect x="83.54" y="528.52" width="33.64" height="2.87" fill="#FF8080"/>
<rect x="117.08" y="528.52" width="11.28" height="2.87" fill="#FCAD94"/>
<rect x="128.26" y="528.52" width="11.28" height="2.87" fill="#FF8080"/>
<rect x="139.44" y="528.52" width="22.46" height="2.87" fill="#F9AA96"/>
<rect x="161.80" y="528.52" width="11.28" height="2.87" fill="#F77E80"/>
<rect x="172.98" y="528.52" width="11.28" height="2.87" fill="#F9AA96"/>
<rect x="184.16" y="528.52" width="11.28" height="2.87" fill="#F77E80"/>
<rect x="195.34" y="528.52" width="33.64" height="2.87" fill="#F9AA96"/>
<rect x="50.00" y="528.52" width="190.06" height="2.77" fill="url(#pb)"/>
<rect x="3.5" y="529.20" width="4.5" height="1.3" fill="#404040" opacity="0.32"/>
<rect x="29.5" y="531.29" width="20" height="2.82" fill="#F9AA96"/>
<rect x="50.00" y="531.29" width="11.28" height="2.87" fill="#FBD0BA"/>
<rect x="61.18" y="531.29" width="11.28" height="2.87" fill="#F9AA96"/>
<rect x="72.36" y="531.29" width="11.28" height="2.87" fill="#F9AA96"/>
<rect x="83.54" y="531.29" width="11.28" height="2.87" fill="#FBD0BA"/>
<rect x="94.72" y="531.29" width="11.28" height="2.87" fill="#F9AA96"/>
<rect x="105.90" y="531.29" width="11.28" height="2.87" fill="#F77E80"/>
<rect x="117.08" y="531.29" width="11.28" height="2.87" fill="#F9AA96"/>
<rect x="128.26" y="531.29" width="22.46" height="2.87" fill="#F9AA96"/>
<rect x="150.62" y="531.29" width="22.46" height="2.87" fill="#F77E80"/>
<rect x="172.98" y="531.29" width="56.00" height="2.87" fill="#F9AA96"/>
<rect x="228.88" y="531.29" width="11.28" height="2.87" fill="#F77E80"/>
<rect x="50.00" y="531.29" width="201.24" height="2.77" fill="url(#pb)"/>
<rect x="3.5" y="531.97" width="6.5" height="1.3" fill="#404040" opacity="0.32"/>
<rect x="29.5" y="534.06" width="20" height="2.82" fill="#FBD0BA"/>
<rect x="50.00" y="534.06" width="11.28" height="2.87" fill="#F9AA96"/>
<rect x="61.18" y="534.06" width="11.28" height="2.87" fill="#FBD0BA"/>
<rect x="72.36" y="534.06" width="22.46" height="2.87" fill="#F9AA96"/>
<rect x="94.72" y="534.06" width="22.46" height="2.87" fill="#FBD0BA"/>
<rect x="117.08" y="534.06" width="11.28" height="2.87" fill="#F9AA96"/>
<rect x="128.26" y="534.06" width="22.46" height="2.87" fill="#FBD0BA"/>
<rect x="150.62" y="534.06" width="11.28" height="2.87" fill="#F9AA96"/>
<rect x="161.80" y="534.06" width="11.28" height="2.87" fill="#FBD0BA"/>
<rect x="172.98" y="534.06" width="11.28" height="2.87" fill="#F9AA96"/>
<rect x="184.16" y="534.06" width="11.28" height="2.87" fill="#FBD0BA"/>
<rect x="195.34" y="534.06" width="33.64" height="2.87" fill="#F9AA96"/>
<rect x="228.88" y="534.06" width="22.46" height="2.87" fill="#F77E80"/>
<rect x="50.00" y="534.06" width="212.42" height="2.77" fill="url(#pb)"/>
<rect x="3.5" y="534.74" width="9.0" height="1.3" fill="#404040" opacity="0.32"/>
<rect x="29.5" y="536.83" width="20" height="2.82" fill="#F9AA96"/>
<rect x="50.00" y="536.83" width="33.64" height="2.87" fill="#F9AA96"/>
<rect x="83.54" y="536.83" width="11.28" height="2.87" fill="#FBD0BA"/>
<rect x="94.72" y="536.83" width="44.82" height="2.87" fill="#F9AA96"/>
<rect x="139.44" y="536.83" width="11.28" height="2.87" fill="#F77E80"/>
<rect x="150.62" y="536.83" width="22.46" height="2.87" fill="#F9AA96"/>
<rect x="172.98" y="536.83" width="22.46" height="2.87" fill="#FBD0BA"/>
<rect x="195.34" y="536.83" width="22.46" height="2.87" fill="#F9AA96"/>
<rect x="217.70" y="536.83" width="11.28" height="2.87" fill="#FBD0BA"/>
<rect x="228.88" y="536.83" width="22.46" height="2.87" fill="#F9AA96"/>
<rect x="251.24" y="536.83" width="11.28" height="2.87" fill="#F77E80"/>
<rect x="50.00" y="536.83" width="223.60" height="2.77" fill="url(#pb)"/>
<rect x="3.5" y="537.51" width="15.6" height="1.3" fill="#404040" opacity="0.32"/>
<rect x="29.5" y="539.60" width="20" height="2.82" fill="#F9AA96"/>
<rect x="50.00" y="539.60" width="22.46" height="2.87" fill="#F9AA96"/>
<rect x="72.36" y="539.60" width="11.28" height="2.87" fill="#F77E80"/>
<rect x="83.54" y="539.60" width="11.28" height="2.87" fill="#FBF588"/>
<rect x="94.72" y="539.60" width="22.46" height="2.87" fill="#F9AA96"/>
<rect x="117.08" y="539.60" width="11.28" height="2.87" fill="#FBD0BA"/>
<rect x="128.26" y="539.60" width="67.18" height="2.87" fill="#F9AA96"/>
<rect x="195.34" y="539.60" width="11.28" height="2.87" fill="#F77E80"/>
<rect x="206.52" y="539.60" width="11.28" height="2.87" fill="#F9AA96"/>
<rect x="217.70" y="539.60" width="11.28" height="2.87" fill="#F77E80"/>
<rect x="228.88" y="539.60" width="22.46" height="2.87" fill="#F9AA96"/>
<rect x="251.24" y="539.60" width="22.46" height="2.87" fill="#F77E80"/>
<rect x="50.00" y="539.60" width="234.78" height="2.77" fill="url(#pb)"/>
<rect x="3.5" y="540.28" width="7.3" height="1.3" fill="#404040" opacity="0.32"/>
<rect x="29.5" y="542.37" width="20" height="2.82" fill="#8FE0A0"/>
<rect x="50.00" y="542.37" width="11.28" height="2.87" fill="#FBD0BA"/>
<rect x="61.18" y="542.37" width="123.08" height="2.87" fill="#F9AA96"/>
<rect x="184.16" y="542.37" width="11.28" height="2.87" fill="#FBD0BA"/>
<rect x="195.34" y="542.37" width="11.28" height="2.87" fill="#F9AA96"/>
<rect x="206.52" y="542.37" width="11.28" height="2.87" fill="#FBD0BA"/>
<rect x="217.70" y="542.37" width="11.28" height="2.87" fill="#F9AA96"/>
<rect x="228.88" y="542.37" width="11.28" height="2.87" fill="#F77E80"/>
<rect x="240.06" y="542.37" width="33.64" height="2.87" fill="#F9AA96"/>
<rect x="273.60" y="542.37" width="11.28" height="2.87" fill="#F77E80"/>
<rect x="50.00" y="542.37" width="245.96" height="2.77" fill="url(#pb)"/>
<rect x="3.5" y="543.05" width="12.6" height="1.3" fill="#404040" opacity="0.32"/>
<rect x="29.5" y="545.14" width="20" height="2.82" fill="#F9AA96"/>
<rect x="50.00" y="545.14" width="22.46" height="2.87" fill="#F77E80"/>
<rect x="72.36" y="545.14" width="22.46" height="2.87" fill="#F9AA96"/>
<rect x="94.72" y="545.14" width="33.64" height="2.87" fill="#F77E80"/>
<rect x="128.26" y="545.14" width="22.46" height="2.87" fill="#F9AA96"/>
<rect x="150.62" y="545.14" width="11.28" height="2.87" fill="#F77E80"/>
<rect x="161.80" y="545.14" width="67.18" height="2.87" fill="#F9AA96"/>
<rect x="228.88" y="545.14" width="11.28" height="2.87" fill="#FBE4DA"/>
<rect x="240.06" y="545.14" width="44.82" height="2.87" fill="#F9AA96"/>
<rect x="284.78" y="545.14" width="11.28" height="2.87" fill="#F77E80"/>
<rect x="50.00" y="545.14" width="257.14" height="2.77" fill="url(#pb)"/>
<rect x="3.5" y="545.82" width="13.3" height="1.3" fill="#404040" opacity="0.32"/>
<rect x="29.5" y="547.91" width="20" height="2.82" fill="#F77E80"/>
<rect x="50.00" y="547.91" width="67.18" height="2.87" fill="#F9AA96"/>
<rect x="117.08" y="547.91" width="11.28" height="2.87" fill="#F77E80"/>
<rect x="128.26" y="547.91" width="33.64" height="2.87" fill="#F9AA96"/>
<rect x="161.80" y="547.91" width="11.28" height="2.87" fill="#F77E80"/>
<rect x="172.98" y="547.91" width="11.28" height="2.87" fill="#CDF0D6"/>
<rect x="184.16" y="547.91" width="22.46" height="2.87" fill="#F9AA96"/>
<rect x="206.52" y="547.91" width="11.28" height="2.87" fill="#F77E80"/>
<rect x="217.70" y="547.91" width="22.46" height="2.87" fill="#F9AA96"/>
<rect x="240.06" y="547.91" width="11.28" height="2.87" fill="#F77E80"/>
<rect x="251.24" y="547.91" width="33.64" height="2.87" fill="#F9AA96"/>
<rect x="284.78" y="547.91" width="22.46" height="2.87" fill="#F77E80"/>
<rect x="50.00" y="547.91" width="268.32" height="2.77" fill="url(#pb)"/>
<rect x="3.5" y="548.59" width="9.8" height="1.3" fill="#404040" opacity="0.32"/>
<rect x="29.5" y="550.68" width="20" height="2.82" fill="#F9AA96"/>
<rect x="50.00" y="550.68" width="33.64" height="2.87" fill="#FBD0BA"/>
<rect x="83.54" y="550.68" width="22.46" height="2.87" fill="#F9AA96"/>
<rect x="105.90" y="550.68" width="11.28" height="2.87" fill="#FBD0BA"/>
<rect x="117.08" y="550.68" width="56.00" height="2.87" fill="#F9AA96"/>
<rect x="172.98" y="550.68" width="11.28" height="2.87" fill="#F77E80"/>
<rect x="184.16" y="550.68" width="11.28" height="2.87" fill="#F9AA96"/>
<rect x="195.34" y="550.68" width="11.28" height="2.87" fill="#F77E80"/>
<rect x="206.52" y="550.68" width="33.64" height="2.87" fill="#F9AA96"/>
<rect x="240.06" y="550.68" width="11.28" height="2.87" fill="#F77E80"/>
<rect x="251.24" y="550.68" width="11.28" height="2.87" fill="#F9AA96"/>
<rect x="262.42" y="550.68" width="11.28" height="2.87" fill="#F77E80"/>
<rect x="273.60" y="550.68" width="22.46" height="2.87" fill="#F9AA96"/>
<rect x="295.96" y="550.68" width="11.28" height="2.87" fill="#FBF588"/>
<rect x="307.14" y="550.68" width="11.28" height="2.87" fill="#F9AA96"/>
<rect x="50.00" y="550.68" width="279.50" height="2.77" fill="url(#pb)"/>
<rect x="3.5" y="551.36" width="12.1" height="1.3" fill="#404040" opacity="0.32"/>
<rect x="29.5" y="553.45" width="20" height="2.82" fill="#F77E80"/>
<rect x="50.00" y="553.45" width="33.64" height="2.87" fill="#FBF588"/>
<rect x="83.54" y="553.45" width="33.64" height="2.87" fill="#FBD0BA"/>
<rect x="117.08" y="553.45" width="56.00" height="2.87" fill="#F9AA96"/>
<rect x="172.98" y="553.45" width="11.28" height="2.87" fill="#FBD0BA"/>
<rect x="184.16" y="553.45" width="11.28" height="2.87" fill="#CDF0D6"/>
<rect x="195.34" y="553.45" width="22.46" height="2.87" fill="#F9AA96"/>
<rect x="217.70" y="553.45" width="11.28" height="2.87" fill="#CDF0D6"/>
<rect x="228.88" y="553.45" width="100.72" height="2.87" fill="#F9AA96"/>
<rect x="50.00" y="553.45" width="290.68" height="2.77" fill="url(#pb)"/>
<rect x="3.5" y="554.13" width="5.8" height="1.3" fill="#404040" opacity="0.32"/>
<rect x="29.5" y="556.22" width="20" height="2.82" fill="#FBF588"/>
<rect x="50.00" y="556.22" width="22.46" height="2.87" fill="#F77E80"/>
<rect x="72.36" y="556.22" width="11.28" height="2.87" fill="#F9AA96"/>
<rect x="83.54" y="556.22" width="11.28" height="2.87" fill="#F77E80"/>
<rect x="94.72" y="556.22" width="11.28" height="2.87" fill="#F9AA96"/>
<rect x="105.90" y="556.22" width="11.28" height="2.87" fill="#F77E80"/>
<rect x="117.08" y="556.22" width="22.46" height="2.87" fill="#F9AA96"/>
<rect x="139.44" y="556.22" width="11.28" height="2.87" fill="#F77E80"/>
<rect x="150.62" y="556.22" width="44.82" height="2.87" fill="#F9AA96"/>
<rect x="195.34" y="556.22" width="22.46" height="2.87" fill="#F77E80"/>
<rect x="217.70" y="556.22" width="22.46" height="2.87" fill="#F9AA96"/>
<rect x="240.06" y="556.22" width="11.28" height="2.87" fill="#F77E80"/>
<rect x="251.24" y="556.22" width="22.46" height="2.87" fill="#F9AA96"/>
<rect x="273.60" y="556.22" width="11.28" height="2.87" fill="#F77E80"/>
<rect x="284.78" y="556.22" width="11.28" height="2.87" fill="#FBF588"/>
<rect x="295.96" y="556.22" width="11.28" height="2.87" fill="#F77E80"/>
<rect x="307.14" y="556.22" width="33.64" height="2.87" fill="#F9AA96"/>
<rect x="50.00" y="556.22" width="301.86" height="2.77" fill="url(#pb)"/>
<rect x="3.5" y="556.90" width="5.8" height="1.3" fill="#404040" opacity="0.32"/>
<rect x="29.5" y="558.99" width="20" height="2.82" fill="#F9AA96"/>
<rect x="50.00" y="558.99" width="111.90" height="2.87" fill="#F9AA96"/>
<rect x="161.80" y="558.99" width="11.28" height="2.87" fill="#F77E80"/>
<rect x="172.98" y="558.99" width="22.46" height="2.87" fill="#F9AA96"/>
<rect x="195.34" y="558.99" width="22.46" height="2.87" fill="#F77E80"/>
<rect x="217.70" y="558.99" width="11.28" height="2.87" fill="#F9AA96"/>
<rect x="228.88" y="558.99" width="22.46" height="2.87" fill="#F77E80"/>
<rect x="251.24" y="558.99" width="11.28" height="2.87" fill="#F9AA96"/>
<rect x="262.42" y="558.99" width="22.46" height="2.87" fill="#F77E80"/>
<rect x="284.78" y="558.99" width="44.82" height="2.87" fill="#F9AA96"/>
<rect x="329.50" y="558.99" width="11.28" height="2.87" fill="#F77E80"/>
<rect x="340.68" y="558.99" width="11.28" height="2.87" fill="#FBD0BA"/>
<rect x="50.00" y="558.99" width="313.04" height="2.77" fill="url(#pb)"/>
<rect x="3.5" y="559.67" width="7.7" height="1.3" fill="#404040" opacity="0.32"/>
<rect x="29.5" y="561.76" width="20" height="2.82" fill="#FBD0BA"/>
<rect x="50.00" y="561.76" width="33.64" height="2.87" fill="#F9AA96"/>
<rect x="83.54" y="561.76" width="44.82" height="2.87" fill="#F77E80"/>
<rect x="128.26" y="561.76" width="11.28" height="2.87" fill="#F9AA96"/>
<rect x="139.44" y="561.76" width="33.64" height="2.87" fill="#F77E80"/>
<rect x="172.98" y="561.76" width="11.28" height="2.87" fill="#F9AA96"/>
<rect x="184.16" y="561.76" width="11.28" height="2.87" fill="#F77E80"/>
<rect x="195.34" y="561.76" width="33.64" height="2.87" fill="#F9AA96"/>
<rect x="228.88" y="561.76" width="11.28" height="2.87" fill="#F77E80"/>
<rect x="240.06" y="561.76" width="33.64" height="2.87" fill="#F9AA96"/>
<rect x="273.60" y="561.76" width="11.28" height="2.87" fill="#F77E80"/>
<rect x="284.78" y="561.76" width="22.46" height="2.87" fill="#F9AA96"/>
<rect x="307.14" y="561.76" width="11.28" height="2.87" fill="#FBD0BA"/>
<rect x="318.32" y="561.76" width="44.82" height="2.87" fill="#F9AA96"/>
<rect x="50.00" y="561.76" width="324.22" height="2.77" fill="url(#pb)"/>
<rect x="3.5" y="562.44" width="13.8" height="1.3" fill="#404040" opacity="0.32"/>
<rect x="29.5" y="564.53" width="20" height="2.82" fill="#F9AA96"/>
<rect x="50.00" y="564.53" width="33.64" height="2.87" fill="#FBF588"/>
<rect x="83.54" y="564.53" width="11.28" height="2.87" fill="#F9AA96"/>
<rect x="94.72" y="564.53" width="22.46" height="2.87" fill="#FBF588"/>
<rect x="117.08" y="564.53" width="11.28" height="2.87" fill="#F77E80"/>
<rect x="128.26" y="564.53" width="33.64" height="2.87" fill="#F9AA96"/>
<rect x="161.80" y="564.53" width="33.64" height="2.87" fill="#FBD0BA"/>
<rect x="195.34" y="564.53" width="33.64" height="2.87" fill="#F9AA96"/>
<rect x="228.88" y="564.53" width="11.28" height="2.87" fill="#F77E80"/>
<rect x="240.06" y="564.53" width="33.64" height="2.87" fill="#F9AA96"/>
<rect x="273.60" y="564.53" width="11.28" height="2.87" fill="#FBD0BA"/>
<rect x="284.78" y="564.53" width="44.82" height="2.87" fill="#F9AA96"/>
<rect x="329.50" y="564.53" width="11.28" height="2.87" fill="#FBF588"/>
<rect x="340.68" y="564.53" width="33.64" height="2.87" fill="#F9AA96"/>
<rect x="50.00" y="564.53" width="335.40" height="2.77" fill="url(#pb)"/>
<rect x="3.5" y="565.21" width="10.6" height="1.3" fill="#404040" opacity="0.32"/>
<rect x="29.5" y="567.30" width="20" height="2.82" fill="#F9AA96"/>
<rect x="50.00" y="567.30" width="33.64" height="2.87" fill="#FBF588"/>
<rect x="83.54" y="567.30" width="11.28" height="2.87" fill="#F9AA96"/>
<rect x="94.72" y="567.30" width="22.46" height="2.87" fill="#8FE0A0"/>
<rect x="117.08" y="567.30" width="56.00" height="2.87" fill="#F9AA96"/>
<rect x="172.98" y="567.30" width="22.46" height="2.87" fill="#FBF588"/>
<rect x="195.34" y="567.30" width="11.28" height="2.87" fill="#F9AA96"/>
<rect x="206.52" y="567.30" width="11.28" height="2.87" fill="#F77E80"/>
<rect x="217.70" y="567.30" width="11.28" height="2.87" fill="#F9AA96"/>
<rect x="228.88" y="567.30" width="11.28" height="2.87" fill="#F77E80"/>
<rect x="240.06" y="567.30" width="56.00" height="2.87" fill="#F9AA96"/>
<rect x="295.96" y="567.30" width="11.28" height="2.87" fill="#F77E80"/>
<rect x="307.14" y="567.30" width="11.28" height="2.87" fill="#F9AA96"/>
<rect x="318.32" y="567.30" width="11.28" height="2.87" fill="#F77E80"/>
<rect x="329.50" y="567.30" width="11.28" height="2.87" fill="#F9AA96"/>
<rect x="340.68" y="567.30" width="11.28" height="2.87" fill="#F77E80"/>
<rect x="351.86" y="567.30" width="11.28" height="2.87" fill="#F9AA96"/>
<rect x="363.04" y="567.30" width="11.28" height="2.87" fill="#F77E80"/>
<rect x="374.22" y="567.30" width="11.28" height="2.87" fill="#F9AA96"/>
<rect x="50.00" y="567.30" width="346.58" height="2.77" fill="url(#pb)"/>
<rect x="3.5" y="567.98" width="9.1" height="1.3" fill="#404040" opacity="0.32"/>
<rect x="29.5" y="570.07" width="20" height="2.82" fill="#F9AA96"/>
<rect x="50.00" y="570.07" width="33.64" height="2.87" fill="#FBF588"/>
<rect x="83.54" y="570.07" width="11.28" height="2.87" fill="#F9AA96"/>
<rect x="94.72" y="570.07" width="22.46" height="2.87" fill="#8FE0A0"/>
<rect x="117.08" y="570.07" width="22.46" height="2.87" fill="#F9AA96"/>
<rect x="139.44" y="570.07" width="11.28" height="2.87" fill="#FBD0BA"/>
<rect x="150.62" y="570.07" width="22.46" height="2.87" fill="#F9AA96"/>
<rect x="172.98" y="570.07" width="22.46" height="2.87" fill="#FBF588"/>
<rect x="195.34" y="570.07" width="11.28" height="2.87" fill="#F9AA96"/>
<rect x="206.52" y="570.07" width="11.28" height="2.87" fill="#FBD0BA"/>
<rect x="217.70" y="570.07" width="11.28" height="2.87" fill="#F9AA96"/>
<rect x="228.88" y="570.07" width="11.28" height="2.87" fill="#F77E80"/>
<rect x="240.06" y="570.07" width="56.00" height="2.87" fill="#F9AA96"/>
<rect x="295.96" y="570.07" width="11.28" height="2.87" fill="#F77E80"/>
<rect x="307.14" y="570.07" width="11.28" height="2.87" fill="#F9AA96"/>
<rect x="318.32" y="570.07" width="11.28" height="2.87" fill="#F77E80"/>
<rect x="329.50" y="570.07" width="11.28" height="2.87" fill="#F9AA96"/>
<rect x="340.68" y="570.07" width="33.64" height="2.87" fill="#F77E80"/>
<rect x="374.22" y="570.07" width="11.28" height="2.87" fill="#F9AA96"/>
<rect x="385.40" y="570.07" width="11.28" height="2.87" fill="#8FE0A0"/>
<rect x="50.00" y="570.07" width="357.76" height="2.77" fill="url(#pb)"/>
<rect x="3.5" y="570.75" width="12.6" height="1.3" fill="#404040" opacity="0.32"/>
<rect x="29.5" y="572.84" width="20" height="2.82" fill="#F9AA96"/>
<rect x="50.00" y="572.84" width="33.64" height="2.87" fill="#FBF588"/>
<rect x="83.54" y="572.84" width="11.28" height="2.87" fill="#F9AA96"/>
<rect x="94.72" y="572.84" width="22.46" height="2.87" fill="#8FE0A0"/>
<rect x="117.08" y="572.84" width="11.28" height="2.87" fill="#F77E80"/>
<rect x="128.26" y="572.84" width="33.64" height="2.87" fill="#F9AA96"/>
<rect x="161.80" y="572.84" width="33.64" height="2.87" fill="#FBF588"/>
<rect x="195.34" y="572.84" width="67.18" height="2.87" fill="#F9AA96"/>
<rect x="262.42" y="572.84" width="11.28" height="2.87" fill="#F77E80"/>
<rect x="273.60" y="572.84" width="111.90" height="2.87" fill="#F9AA96"/>
<rect x="385.40" y="572.84" width="22.46" height="2.87" fill="#8FE0A0"/>
<rect x="50.00" y="572.84" width="368.94" height="2.77" fill="url(#pb)"/>
<rect x="3.5" y="573.52" width="10.9" height="1.3" fill="#404040" opacity="0.32"/>
<rect x="29.5" y="575.61" width="20" height="2.82" fill="#F77E80"/>
<rect x="50.00" y="575.61" width="33.64" height="2.87" fill="#FBF588"/>
<rect x="83.54" y="575.61" width="11.28" height="2.87" fill="#F9AA96"/>
<rect x="94.72" y="575.61" width="22.46" height="2.87" fill="#CDF0D6"/>
<rect x="117.08" y="575.61" width="11.28" height="2.87" fill="#F9AA96"/>
<rect x="128.26" y="575.61" width="11.28" height="2.87" fill="#F77E80"/>
<rect x="139.44" y="575.61" width="11.28" height="2.87" fill="#F9AA96"/>
<rect x="150.62" y="575.61" width="11.28" height="2.87" fill="#F77E80"/>
<rect x="161.80" y="575.61" width="11.28" height="2.87" fill="#F9AA96"/>
<rect x="172.98" y="575.61" width="22.46" height="2.87" fill="#FBF588"/>
<rect x="195.34" y="575.61" width="11.28" height="2.87" fill="#FBD0BA"/>
<rect x="206.52" y="575.61" width="11.28" height="2.87" fill="#F9AA96"/>
<rect x="217.70" y="575.61" width="11.28" height="2.87" fill="#F77E80"/>
<rect x="228.88" y="575.61" width="22.46" height="2.87" fill="#F9AA96"/>
<rect x="251.24" y="575.61" width="11.28" height="2.87" fill="#F77E80"/>
<rect x="262.42" y="575.61" width="11.28" height="2.87" fill="#F9AA96"/>
<rect x="273.60" y="575.61" width="11.28" height="2.87" fill="#FBF588"/>
<rect x="284.78" y="575.61" width="44.82" height="2.87" fill="#F9AA96"/>
<rect x="329.50" y="575.61" width="11.28" height="2.87" fill="#CDF0D6"/>
<rect x="340.68" y="575.61" width="33.64" height="2.87" fill="#F9AA96"/>
<rect x="374.22" y="575.61" width="11.28" height="2.87" fill="#FBF588"/>
<rect x="385.40" y="575.61" width="33.64" height="2.87" fill="#CDF0D6"/>
<rect x="50.00" y="575.61" width="380.12" height="2.77" fill="url(#pb)"/>
<rect x="3.5" y="576.29" width="8.9" height="1.3" fill="#404040" opacity="0.32"/>
<rect x="29.5" y="578.38" width="20" height="2.82" fill="#F9AA96"/>
<rect x="50.00" y="578.38" width="22.46" height="2.87" fill="#FBF588"/>
<rect x="72.36" y="578.38" width="11.28" height="2.87" fill="#FBD0BA"/>
<rect x="83.54" y="578.38" width="11.28" height="2.87" fill="#F9AA96"/>
<rect x="94.72" y="578.38" width="22.46" height="2.87" fill="#8FE0A0"/>
<rect x="117.08" y="578.38" width="11.28" height="2.87" fill="#F77E80"/>
<rect x="128.26" y="578.38" width="44.82" height="2.87" fill="#F9AA96"/>
<rect x="172.98" y="578.38" width="22.46" height="2.87" fill="#FBF588"/>
<rect x="195.34" y="578.38" width="22.46" height="2.87" fill="#F9AA96"/>
<rect x="217.70" y="578.38" width="22.46" height="2.87" fill="#F77E80"/>
<rect x="240.06" y="578.38" width="56.00" height="2.87" fill="#F9AA96"/>
<rect x="295.96" y="578.38" width="11.28" height="2.87" fill="#F77E80"/>
<rect x="307.14" y="578.38" width="11.28" height="2.87" fill="#F9AA96"/>
<rect x="318.32" y="578.38" width="22.46" height="2.87" fill="#F77E80"/>
<rect x="340.68" y="578.38" width="22.46" height="2.87" fill="#F9AA96"/>
<rect x="363.04" y="578.38" width="11.28" height="2.87" fill="#F77E80"/>
<rect x="374.22" y="578.38" width="11.28" height="2.87" fill="#F9AA96"/>
<rect x="385.40" y="578.38" width="22.46" height="2.87" fill="#8FE0A0"/>
<rect x="407.76" y="578.38" width="11.28" height="2.87" fill="#CDF0D6"/>
<rect x="418.94" y="578.38" width="11.28" height="2.87" fill="#F77E80"/>
<rect x="50.00" y="578.38" width="391.30" height="2.77" fill="url(#pb)"/>
<rect x="3.5" y="579.06" width="15.3" height="1.3" fill="#404040" opacity="0.32"/>
<rect x="29.5" y="581.15" width="20" height="2.82" fill="#F77E80"/>
<rect x="50.00" y="581.15" width="11.28" height="2.87" fill="#F77E80"/>
<rect x="61.18" y="581.15" width="22.46" height="2.87" fill="#F9AA96"/>
<rect x="83.54" y="581.15" width="33.64" height="2.87" fill="#F77E80"/>
<rect x="117.08" y="581.15" width="78.36" height="2.87" fill="#F9AA96"/>
<rect x="195.34" y="581.15" width="22.46" height="2.87" fill="#F77E80"/>
<rect x="217.70" y="581.15" width="11.28" height="2.87" fill="#F9AA96"/>
<rect x="228.88" y="581.15" width="33.64" height="2.87" fill="#F77E80"/>
<rect x="262.42" y="581.15" width="33.64" height="2.87" fill="#F9AA96"/>
<rect x="295.96" y="581.15" width="11.28" height="2.87" fill="#FBE4DA"/>
<rect x="307.14" y="581.15" width="11.28" height="2.87" fill="#F9AA96"/>
<rect x="318.32" y="581.15" width="11.28" height="2.87" fill="#8FE0A0"/>
<rect x="329.50" y="581.15" width="100.72" height="2.87" fill="#F9AA96"/>
<rect x="430.12" y="581.15" width="11.28" height="2.87" fill="#FBF588"/>
<rect x="50.00" y="581.15" width="402.48" height="2.77" fill="url(#pb)"/>
<rect x="3.5" y="581.83" width="14.1" height="1.3" fill="#404040" opacity="0.32"/>
<rect x="29.5" y="583.92" width="20" height="2.82" fill="#F77E80"/>
<rect x="50.00" y="583.92" width="11.28" height="2.87" fill="#FBD0BA"/>
<rect x="61.18" y="583.92" width="22.46" height="2.87" fill="#FBF588"/>
<rect x="83.54" y="583.92" width="11.28" height="2.87" fill="#F9AA96"/>
<rect x="94.72" y="583.92" width="22.46" height="2.87" fill="#FBF588"/>
<rect x="117.08" y="583.92" width="11.28" height="2.87" fill="#F9AA96"/>
<rect x="128.26" y="583.92" width="22.46" height="2.87" fill="#CDF0D6"/>
<rect x="150.62" y="583.92" width="11.28" height="2.87" fill="#F9AA96"/>
<rect x="161.80" y="583.92" width="11.28" height="2.87" fill="#CDF0D6"/>
<rect x="172.98" y="583.92" width="212.52" height="2.87" fill="#F9AA96"/>
<rect x="385.40" y="583.92" width="22.46" height="2.87" fill="#FBF588"/>
<rect x="407.76" y="583.92" width="22.46" height="2.87" fill="#F9AA96"/>
<rect x="430.12" y="583.92" width="11.28" height="2.87" fill="#FBF588"/>
<rect x="441.30" y="583.92" width="11.28" height="2.87" fill="#F9AA96"/>
<rect x="50.00" y="583.92" width="413.66" height="2.77" fill="url(#pb)"/>
<rect x="3.5" y="584.60" width="8.2" height="1.3" fill="#404040" opacity="0.32"/>
<rect x="29.5" y="586.69" width="20" height="2.82" fill="#F77E80"/>
<rect x="50.00" y="586.69" width="33.64" height="2.87" fill="#F9AA96"/>
<rect x="83.54" y="586.69" width="11.28" height="2.87" fill="#F77E80"/>
<rect x="94.72" y="586.69" width="22.46" height="2.87" fill="#F9AA96"/>
<rect x="117.08" y="586.69" width="11.28" height="2.87" fill="#F77E80"/>
<rect x="128.26" y="586.69" width="56.00" height="2.87" fill="#F9AA96"/>
<rect x="184.16" y="586.69" width="11.28" height="2.87" fill="#FBF588"/>
<rect x="195.34" y="586.69" width="11.28" height="2.87" fill="#F9AA96"/>
<rect x="206.52" y="586.69" width="11.28" height="2.87" fill="#F77E80"/>
<rect x="217.70" y="586.69" width="11.28" height="2.87" fill="#F9AA96"/>
<rect x="228.88" y="586.69" width="11.28" height="2.87" fill="#CDF0D6"/>
<rect x="240.06" y="586.69" width="11.28" height="2.87" fill="#F77E80"/>
<rect x="251.24" y="586.69" width="11.28" height="2.87" fill="#F9AA96"/>
<rect x="262.42" y="586.69" width="11.28" height="2.87" fill="#FBD0BA"/>
<rect x="273.60" y="586.69" width="11.28" height="2.87" fill="#F9AA96"/>
<rect x="284.78" y="586.69" width="11.28" height="2.87" fill="#F77E80"/>
<rect x="295.96" y="586.69" width="11.28" height="2.87" fill="#CDF0D6"/>
<rect x="307.14" y="586.69" width="11.28" height="2.87" fill="#F77E80"/>
<rect x="318.32" y="586.69" width="33.64" height="2.87" fill="#F9AA96"/>
<rect x="351.86" y="586.69" width="11.28" height="2.87" fill="#F77E80"/>
<rect x="363.04" y="586.69" width="89.54" height="2.87" fill="#F9AA96"/>
<rect x="452.48" y="586.69" width="11.28" height="2.87" fill="#F77E80"/>
<rect x="50.00" y="586.69" width="424.84" height="2.77" fill="url(#pb)"/>
<rect x="3.5" y="587.37" width="12.5" height="1.3" fill="#404040" opacity="0.32"/>
<rect x="29.5" y="589.46" width="20" height="2.82" fill="#F9AA96"/>
<rect x="50.00" y="589.46" width="33.64" height="2.87" fill="#F9AA96"/>
<rect x="83.54" y="589.46" width="11.28" height="2.87" fill="#F77E80"/>
<rect x="94.72" y="589.46" width="22.46" height="2.87" fill="#FBD0BA"/>
<rect x="117.08" y="589.46" width="11.28" height="2.87" fill="#F9AA96"/>
<rect x="128.26" y="589.46" width="11.28" height="2.87" fill="#F77E80"/>
<rect x="139.44" y="589.46" width="178.98" height="2.87" fill="#F9AA96"/>
<rect x="318.32" y="589.46" width="11.28" height="2.87" fill="#FBE4DA"/>
<rect x="329.50" y="589.46" width="11.28" height="2.87" fill="#CDF0D6"/>
<rect x="340.68" y="589.46" width="11.28" height="2.87" fill="#FBE4DA"/>
<rect x="351.86" y="589.46" width="33.64" height="2.87" fill="#F9AA96"/>
<rect x="385.40" y="589.46" width="22.46" height="2.87" fill="#F77E80"/>
<rect x="407.76" y="589.46" width="22.46" height="2.87" fill="#F9AA96"/>
<rect x="430.12" y="589.46" width="11.28" height="2.87" fill="#F77E80"/>
<rect x="441.30" y="589.46" width="22.46" height="2.87" fill="#F9AA96"/>
<rect x="463.66" y="589.46" width="11.28" height="2.87" fill="#F77E80"/>
<rect x="50.00" y="589.46" width="436.02" height="2.77" fill="url(#pb)"/>
<rect x="3.5" y="590.14" width="11.8" height="1.3" fill="#404040" opacity="0.32"/>
<rect x="29.5" y="592.23" width="20" height="2.82" fill="#F9AA96"/>
<rect x="50.00" y="592.23" width="33.64" height="2.87" fill="#F9AA96"/>
<rect x="83.54" y="592.23" width="11.28" height="2.87" fill="#F77E80"/>
<rect x="94.72" y="592.23" width="22.46" height="2.87" fill="#F9AA96"/>
<rect x="117.08" y="592.23" width="11.28" height="2.87" fill="#F77E80"/>
<rect x="128.26" y="592.23" width="11.28" height="2.87" fill="#F9AA96"/>
<rect x="139.44" y="592.23" width="22.46" height="2.87" fill="#F77E80"/>
<rect x="161.80" y="592.23" width="33.64" height="2.87" fill="#F9AA96"/>
<rect x="195.34" y="592.23" width="11.28" height="2.87" fill="#F77E80"/>
<rect x="206.52" y="592.23" width="11.28" height="2.87" fill="#FBF588"/>
<rect x="217.70" y="592.23" width="33.64" height="2.87" fill="#F9AA96"/>
<rect x="251.24" y="592.23" width="11.28" height="2.87" fill="#F77E80"/>
<rect x="262.42" y="592.23" width="33.64" height="2.87" fill="#F9AA96"/>
<rect x="295.96" y="592.23" width="33.64" height="2.87" fill="#F77E80"/>
<rect x="329.50" y="592.23" width="11.28" height="2.87" fill="#F9AA96"/>
<rect x="340.68" y="592.23" width="22.46" height="2.87" fill="#F77E80"/>
<rect x="363.04" y="592.23" width="111.90" height="2.87" fill="#F9AA96"/>
<rect x="474.84" y="592.23" width="11.28" height="2.87" fill="#F77E80"/>
<rect x="50.00" y="592.23" width="447.20" height="2.77" fill="url(#pb)"/>
<rect x="3.5" y="592.91" width="16.4" height="1.3" fill="#404040" opacity="0.32"/>
<rect x="29.5" y="595.00" width="20" height="2.82" fill="#F9AA96"/>
<rect x="50.00" y="595.00" width="44.82" height="2.87" fill="#F9AA96"/>
<rect x="94.72" y="595.00" width="11.28" height="2.87" fill="#F77E80"/>
<rect x="105.90" y="595.00" width="100.72" height="2.87" fill="#F9AA96"/>
<rect x="206.52" y="595.00" width="11.28" height="2.87" fill="#FBF588"/>
<rect x="217.70" y="595.00" width="257.24" height="2.87" fill="#F9AA96"/>
<rect x="474.84" y="595.00" width="11.28" height="2.87" fill="#F77E80"/>
<rect x="486.02" y="595.00" width="11.28" height="2.87" fill="#8FE0A0"/>
<rect x="50.00" y="595.00" width="458.38" height="2.77" fill="url(#pb)"/>
<rect x="3.5" y="595.68" width="14.5" height="1.3" fill="#404040" opacity="0.32"/>
<rect x="29.5" y="597.77" width="20" height="2.82" fill="#F77E80"/>
<rect x="50.00" y="597.77" width="22.46" height="2.87" fill="#F9AA96"/>
<rect x="72.36" y="597.77" width="11.28" height="2.87" fill="#F77E80"/>
<rect x="83.54" y="597.77" width="33.64" height="2.87" fill="#F9AA96"/>
<rect x="117.08" y="597.77" width="22.46" height="2.87" fill="#F77E80"/>
<rect x="139.44" y="597.77" width="56.00" height="2.87" fill="#F9AA96"/>
<rect x="195.34" y="597.77" width="11.28" height="2.87" fill="#F77E80"/>
<rect x="206.52" y="597.77" width="11.28" height="2.87" fill="#F9AA96"/>
<rect x="217.70" y="597.77" width="56.00" height="2.87" fill="#F77E80"/>
<rect x="273.60" y="597.77" width="22.46" height="2.87" fill="#F9AA96"/>
<rect x="295.96" y="597.77" width="33.64" height="2.87" fill="#F77E80"/>
<rect x="329.50" y="597.77" width="11.28" height="2.87" fill="#F9AA96"/>
<rect x="340.68" y="597.77" width="33.64" height="2.87" fill="#F77E80"/>
<rect x="374.22" y="597.77" width="67.18" height="2.87" fill="#F9AA96"/>
<rect x="441.30" y="597.77" width="11.28" height="2.87" fill="#F77E80"/>
<rect x="452.48" y="597.77" width="22.46" height="2.87" fill="#F9AA96"/>
<rect x="474.84" y="597.77" width="11.28" height="2.87" fill="#F77E80"/>
<rect x="486.02" y="597.77" width="11.28" height="2.87" fill="#F9AA96"/>
<rect x="497.20" y="597.77" width="11.28" height="2.87" fill="#F77E80"/>
<rect x="50.00" y="597.77" width="469.56" height="2.77" fill="url(#pb)"/>
<rect x="3.5" y="598.45" width="8.7" height="1.3" fill="#404040" opacity="0.32"/>
<rect x="29.5" y="600.54" width="20" height="2.82" fill="#F77E80"/>
<rect x="50.00" y="600.54" width="22.46" height="2.87" fill="#F77E80"/>
<rect x="72.36" y="600.54" width="11.28" height="2.87" fill="#F9AA96"/>
<rect x="83.54" y="600.54" width="22.46" height="2.87" fill="#F77E80"/>
<rect x="105.90" y="600.54" width="11.28" height="2.87" fill="#F9AA96"/>
<rect x="117.08" y="600.54" width="56.00" height="2.87" fill="#F77E80"/>
<rect x="172.98" y="600.54" width="44.82" height="2.87" fill="#F9AA96"/>
<rect x="217.70" y="600.54" width="11.28" height="2.87" fill="#F77E80"/>
<rect x="228.88" y="600.54" width="67.18" height="2.87" fill="#F9AA96"/>
<rect x="295.96" y="600.54" width="11.28" height="2.87" fill="#FBD0BA"/>
<rect x="307.14" y="600.54" width="11.28" height="2.87" fill="#F9AA96"/>
<rect x="318.32" y="600.54" width="11.28" height="2.87" fill="#F9AA96"/>
<rect x="329.50" y="600.54" width="11.28" height="2.87" fill="#F77E80"/>
<rect x="340.68" y="600.54" width="11.28" height="2.87" fill="#F9AA96"/>
<rect x="351.86" y="600.54" width="11.28" height="2.87" fill="#F9AA96"/>
<rect x="363.04" y="600.54" width="11.28" height="2.87" fill="#F9AA96"/>
<rect x="374.22" y="600.54" width="11.28" height="2.87" fill="#F77E80"/>
<rect x="385.40" y="600.54" width="11.28" height="2.87" fill="#F77E80"/>
<rect x="396.58" y="600.54" width="11.28" height="2.87" fill="#F9AA96"/>
<rect x="407.76" y="600.54" width="11.28" height="2.87" fill="#F77E80"/>
<rect x="418.94" y="600.54" width="22.46" height="2.87" fill="#F9AA96"/>
<rect x="441.30" y="600.54" width="11.28" height="2.87" fill="#F77E80"/>
<rect x="452.48" y="600.54" width="11.28" height="2.87" fill="#F9AA96"/>
<rect x="463.66" y="600.54" width="22.46" height="2.87" fill="#F77E80"/>
<rect x="486.02" y="600.54" width="22.46" height="2.87" fill="#F9AA96"/>
<rect x="508.38" y="600.54" width="11.28" height="2.87" fill="#8FE0A0"/>
<rect x="50.00" y="600.54" width="480.74" height="2.77" fill="url(#pb)"/>
<rect x="3.5" y="601.22" width="9.1" height="1.3" fill="#404040" opacity="0.32"/>
<rect x="29.5" y="603.31" width="20" height="2.82" fill="#F9AA96"/>
<rect x="50.00" y="603.31" width="44.82" height="2.87" fill="#F9AA96"/>
<rect x="94.72" y="603.31" width="33.64" height="2.87" fill="#F77E80"/>
<rect x="128.26" y="603.31" width="44.82" height="2.87" fill="#F9AA96"/>
<rect x="172.98" y="603.31" width="22.46" height="2.87" fill="#F77E80"/>
<rect x="195.34" y="603.31" width="11.28" height="2.87" fill="#F9AA96"/>
<rect x="206.52" y="603.31" width="11.28" height="2.87" fill="#CDF0D6"/>
<rect x="217.70" y="603.31" width="22.46" height="2.87" fill="#F77E80"/>
<rect x="240.06" y="603.31" width="22.46" height="2.87" fill="#F9AA96"/>
<rect x="262.42" y="603.31" width="44.82" height="2.87" fill="#F77E80"/>
<rect x="307.14" y="603.31" width="11.28" height="2.87" fill="#F9AA96"/>
<rect x="318.32" y="603.31" width="11.28" height="2.87" fill="#F77E80"/>
<rect x="329.50" y="603.31" width="100.72" height="2.87" fill="#F9AA96"/>
<rect x="430.12" y="603.31" width="11.28" height="2.87" fill="#F77E80"/>
<rect x="441.30" y="603.31" width="44.82" height="2.87" fill="#F9AA96"/>
<rect x="486.02" y="603.31" width="22.46" height="2.87" fill="#8FE0A0"/>
<rect x="508.38" y="603.31" width="22.46" height="2.87" fill="#F9AA96"/>
<rect x="50.00" y="603.31" width="491.92" height="2.77" fill="url(#pb)"/>
<rect x="3.5" y="603.99" width="14.0" height="1.3" fill="#404040" opacity="0.32"/>
<rect x="29.5" y="606.08" width="20" height="2.82" fill="#F9AA96"/>
<rect x="50.00" y="606.08" width="22.46" height="2.87" fill="#F9AA96"/>
<rect x="72.36" y="606.08" width="11.28" height="2.87" fill="#F77E80"/>
<rect x="83.54" y="606.08" width="11.28" height="2.87" fill="#F9AA96"/>
<rect x="94.72" y="606.08" width="33.64" height="2.87" fill="#F77E80"/>
<rect x="128.26" y="606.08" width="22.46" height="2.87" fill="#F9AA96"/>
<rect x="150.62" y="606.08" width="11.28" height="2.87" fill="#F77E80"/>
<rect x="161.80" y="606.08" width="11.28" height="2.87" fill="#F9AA96"/>
<rect x="172.98" y="606.08" width="33.64" height="2.87" fill="#F77E80"/>
<rect x="206.52" y="606.08" width="11.28" height="2.87" fill="#CDF0D6"/>
<rect x="217.70" y="606.08" width="11.28" height="2.87" fill="#F77E80"/>
<rect x="228.88" y="606.08" width="11.28" height="2.87" fill="#F9AA96"/>
<rect x="240.06" y="606.08" width="11.28" height="2.87" fill="#F77E80"/>
<rect x="251.24" y="606.08" width="11.28" height="2.87" fill="#F9AA96"/>
<rect x="262.42" y="606.08" width="22.46" height="2.87" fill="#F77E80"/>
<rect x="284.78" y="606.08" width="11.28" height="2.87" fill="#8FE0A0"/>
<rect x="295.96" y="606.08" width="22.46" height="2.87" fill="#F9AA96"/>
<rect x="318.32" y="606.08" width="22.46" height="2.87" fill="#F77E80"/>
<rect x="340.68" y="606.08" width="44.82" height="2.87" fill="#F9AA96"/>
<rect x="385.40" y="606.08" width="33.64" height="2.87" fill="#F77E80"/>
<rect x="418.94" y="606.08" width="67.18" height="2.87" fill="#F9AA96"/>
<rect x="486.02" y="606.08" width="22.46" height="2.87" fill="#CDF0D6"/>
<rect x="508.38" y="606.08" width="22.46" height="2.87" fill="#F77E80"/>
<rect x="530.74" y="606.08" width="11.28" height="2.87" fill="#8FE0A0"/>
<rect x="50.00" y="606.08" width="503.10" height="2.77" fill="url(#pb)"/>
<rect x="3.5" y="606.76" width="12.7" height="1.3" fill="#404040" opacity="0.32"/>
<rect x="29.5" y="608.85" width="20" height="2.82" fill="#8FE0A0"/>
<rect x="50.00" y="608.85" width="22.46" height="2.87" fill="#FBD0BA"/>
<rect x="72.36" y="608.85" width="11.28" height="2.87" fill="#F9AA96"/>
<rect x="83.54" y="608.85" width="11.28" height="2.87" fill="#FBF588"/>
<rect x="94.72" y="608.85" width="22.46" height="2.87" fill="#F9AA96"/>
<rect x="117.08" y="608.85" width="11.28" height="2.87" fill="#FBD0BA"/>
<rect x="128.26" y="608.85" width="56.00" height="2.87" fill="#F9AA96"/>
<rect x="184.16" y="608.85" width="11.28" height="2.87" fill="#FBD0BA"/>
<rect x="195.34" y="608.85" width="11.28" height="2.87" fill="#F9AA96"/>
<rect x="206.52" y="608.85" width="22.46" height="2.87" fill="#FBD0BA"/>
<rect x="228.88" y="608.85" width="44.82" height="2.87" fill="#F9AA96"/>
<rect x="273.60" y="608.85" width="11.28" height="2.87" fill="#FBD0BA"/>
<rect x="284.78" y="608.85" width="11.28" height="2.87" fill="#8FE0A0"/>
<rect x="295.96" y="608.85" width="22.46" height="2.87" fill="#F9AA96"/>
<rect x="318.32" y="608.85" width="11.28" height="2.87" fill="#F77E80"/>
<rect x="329.50" y="608.85" width="11.28" height="2.87" fill="#F9AA96"/>
<rect x="340.68" y="608.85" width="11.28" height="2.87" fill="#FBF588"/>
<rect x="351.86" y="608.85" width="89.54" height="2.87" fill="#F9AA96"/>
<rect x="441.30" y="608.85" width="33.64" height="2.87" fill="#F77E80"/>
<rect x="474.84" y="608.85" width="11.28" height="2.87" fill="#F9AA96"/>
<rect x="486.02" y="608.85" width="56.00" height="2.87" fill="#F77E80"/>
<rect x="541.92" y="608.85" width="11.28" height="2.87" fill="#F9AA96"/>
<rect x="50.00" y="608.85" width="514.28" height="2.77" fill="url(#pb)"/>
<rect x="3.5" y="609.53" width="10.9" height="1.3" fill="#404040" opacity="0.32"/>
<rect x="29.5" y="611.62" width="20" height="2.82" fill="#FBF588"/>
<rect x="50.00" y="611.62" width="22.46" height="2.87" fill="#CDF0D6"/>
<rect x="72.36" y="611.62" width="11.28" height="2.87" fill="#F9AA96"/>
<rect x="83.54" y="611.62" width="11.28" height="2.87" fill="#CDF0D6"/>
<rect x="94.72" y="611.62" width="33.64" height="2.87" fill="#FBF588"/>
<rect x="128.26" y="611.62" width="156.62" height="2.87" fill="#F9AA96"/>
<rect x="284.78" y="611.62" width="11.28" height="2.87" fill="#FBF588"/>
<rect x="295.96" y="611.62" width="11.28" height="2.87" fill="#F9AA96"/>
<rect x="307.14" y="611.62" width="11.28" height="2.87" fill="#F77E80"/>
<rect x="318.32" y="611.62" width="22.46" height="2.87" fill="#F9AA96"/>
<rect x="340.68" y="611.62" width="11.28" height="2.87" fill="#FBF588"/>
<rect x="351.86" y="611.62" width="33.64" height="2.87" fill="#F9AA96"/>
<rect x="385.40" y="611.62" width="22.46" height="2.87" fill="#FBF588"/>
<rect x="407.76" y="611.62" width="11.28" height="2.87" fill="#F9AA96"/>
<rect x="418.94" y="611.62" width="11.28" height="2.87" fill="#FBD0BA"/>
<rect x="430.12" y="611.62" width="111.90" height="2.87" fill="#F9AA96"/>
<rect x="541.92" y="611.62" width="11.28" height="2.87" fill="#F77E80"/>
<rect x="553.10" y="611.62" width="11.28" height="2.87" fill="#F77E80"/>
<rect x="50.00" y="611.62" width="525.46" height="2.77" fill="url(#pb)"/>
<rect x="3.5" y="612.30" width="17.3" height="1.3" fill="#404040" opacity="0.32"/>
<rect x="29.5" y="614.39" width="20" height="2.82" fill="#FBF588"/>
<rect x="50.00" y="614.39" width="22.46" height="2.87" fill="#FBD0BA"/>
<rect x="72.36" y="614.39" width="11.28" height="2.87" fill="#F77E80"/>
<rect x="83.54" y="614.39" width="11.28" height="2.87" fill="#FBD0BA"/>
<rect x="94.72" y="614.39" width="11.28" height="2.87" fill="#F9AA96"/>
<rect x="105.90" y="614.39" width="11.28" height="2.87" fill="#F77E80"/>
<rect x="117.08" y="614.39" width="11.28" height="2.87" fill="#F9AA96"/>
<rect x="128.26" y="614.39" width="11.28" height="2.87" fill="#F77E80"/>
<rect x="139.44" y="614.39" width="33.64" height="2.87" fill="#F9AA96"/>
<rect x="172.98" y="614.39" width="22.46" height="2.87" fill="#F77E80"/>
<rect x="195.34" y="614.39" width="22.46" height="2.87" fill="#F9AA96"/>
<rect x="217.70" y="614.39" width="11.28" height="2.87" fill="#F77E80"/>
<rect x="228.88" y="614.39" width="11.28" height="2.87" fill="#F9AA96"/>
<rect x="240.06" y="614.39" width="11.28" height="2.87" fill="#F77E80"/>
<rect x="251.24" y="614.39" width="33.64" height="2.87" fill="#F9AA96"/>
<rect x="284.78" y="614.39" width="11.28" height="2.87" fill="#8FE0A0"/>
<rect x="295.96" y="614.39" width="11.28" height="2.87" fill="#F77E80"/>
<rect x="307.14" y="614.39" width="33.64" height="2.87" fill="#F9AA96"/>
<rect x="340.68" y="614.39" width="11.28" height="2.87" fill="#FBF588"/>
<rect x="351.86" y="614.39" width="22.46" height="2.87" fill="#F9AA96"/>
<rect x="374.22" y="614.39" width="11.28" height="2.87" fill="#FBF588"/>
<rect x="385.40" y="614.39" width="44.82" height="2.87" fill="#F9AA96"/>
<rect x="430.12" y="614.39" width="22.46" height="2.87" fill="#F77E80"/>
<rect x="452.48" y="614.39" width="11.28" height="2.87" fill="#F9AA96"/>
<rect x="463.66" y="614.39" width="11.28" height="2.87" fill="#FBD0BA"/>
<rect x="474.84" y="614.39" width="11.28" height="2.87" fill="#F77E80"/>
<rect x="486.02" y="614.39" width="22.46" height="2.87" fill="#F9AA96"/>
<rect x="508.38" y="614.39" width="11.28" height="2.87" fill="#F77E80"/>
<rect x="519.56" y="614.39" width="44.82" height="2.87" fill="#F9AA96"/>
<rect x="564.28" y="614.39" width="11.28" height="2.87" fill="#F9AA96"/>
<rect x="50.00" y="614.39" width="536.64" height="2.77" fill="url(#pb)"/>
<rect x="3.5" y="615.07" width="13.6" height="1.3" fill="#404040" opacity="0.32"/>
<rect x="29.5" y="617.16" width="20" height="2.82" fill="#8FE0A0"/>
<rect x="50.00" y="617.16" width="22.46" height="2.87" fill="#F9AA96"/>
<rect x="72.36" y="617.16" width="11.28" height="2.87" fill="#F77E80"/>
<rect x="83.54" y="617.16" width="11.28" height="2.87" fill="#FBF588"/>
<rect x="94.72" y="617.16" width="11.28" height="2.87" fill="#F9AA96"/>
<rect x="105.90" y="617.16" width="11.28" height="2.87" fill="#F77E80"/>
<rect x="117.08" y="617.16" width="44.82" height="2.87" fill="#F9AA96"/>
<rect x="161.80" y="617.16" width="11.28" height="2.87" fill="#F77E80"/>
<rect x="172.98" y="617.16" width="33.64" height="2.87" fill="#F9AA96"/>
<rect x="206.52" y="617.16" width="11.28" height="2.87" fill="#CDF0D6"/>
<rect x="217.70" y="617.16" width="11.28" height="2.87" fill="#FBF588"/>
<rect x="228.88" y="617.16" width="111.90" height="2.87" fill="#F9AA96"/>
<rect x="340.68" y="617.16" width="11.28" height="2.87" fill="#FBF588"/>
<rect x="351.86" y="617.16" width="11.28" height="2.87" fill="#F77E80"/>
<rect x="363.04" y="617.16" width="78.36" height="2.87" fill="#F9AA96"/>
<rect x="441.30" y="617.16" width="11.28" height="2.87" fill="#F77E80"/>
<rect x="452.48" y="617.16" width="22.46" height="2.87" fill="#F9AA96"/>
<rect x="474.84" y="617.16" width="11.28" height="2.87" fill="#F77E80"/>
<rect x="486.02" y="617.16" width="67.18" height="2.87" fill="#F9AA96"/>
<rect x="553.10" y="617.16" width="11.28" height="2.87" fill="#8FE0A0"/>
<rect x="564.28" y="617.16" width="11.28" height="2.87" fill="#FBF588"/>
<rect x="575.46" y="617.16" width="11.28" height="2.87" fill="#F9AA96"/>
<rect x="50.00" y="617.16" width="547.82" height="2.77" fill="url(#pb)"/>
<rect x="3.5" y="617.84" width="14.1" height="1.3" fill="#404040" opacity="0.32"/>
<rect x="29.5" y="619.93" width="20" height="2.82" fill="#FBD0BA"/>
<rect x="50.00" y="619.93" width="22.46" height="2.87" fill="#FBF588"/>
<rect x="72.36" y="619.93" width="11.28" height="2.87" fill="#F9AA96"/>
<rect x="83.54" y="619.93" width="11.28" height="2.87" fill="#F77E80"/>
<rect x="94.72" y="619.93" width="111.90" height="2.87" fill="#F9AA96"/>
<rect x="206.52" y="619.93" width="11.28" height="2.87" fill="#CDF0D6"/>
<rect x="217.70" y="619.93" width="11.28" height="2.87" fill="#FBF588"/>
<rect x="228.88" y="619.93" width="111.90" height="2.87" fill="#F9AA96"/>
<rect x="340.68" y="619.93" width="11.28" height="2.87" fill="#FBF588"/>
<rect x="351.86" y="619.93" width="22.46" height="2.87" fill="#F77E80"/>
<rect x="374.22" y="619.93" width="44.82" height="2.87" fill="#F9AA96"/>
<rect x="418.94" y="619.93" width="11.28" height="2.87" fill="#F77E80"/>
<rect x="430.12" y="619.93" width="11.28" height="2.87" fill="#FBD0BA"/>
<rect x="441.30" y="619.93" width="11.28" height="2.87" fill="#F77E80"/>
<rect x="452.48" y="619.93" width="11.28" height="2.87" fill="#F9AA96"/>
<rect x="463.66" y="619.93" width="11.28" height="2.87" fill="#F9AA96"/>
<rect x="474.84" y="619.93" width="11.28" height="2.87" fill="#F77E80"/>
<rect x="486.02" y="619.93" width="11.28" height="2.87" fill="#F9AA96"/>
<rect x="497.20" y="619.93" width="11.28" height="2.87" fill="#F9AA96"/>
<rect x="508.38" y="619.93" width="11.28" height="2.87" fill="#F9AA96"/>
<rect x="519.56" y="619.93" width="11.28" height="2.87" fill="#F9AA96"/>
<rect x="530.74" y="619.93" width="33.64" height="2.87" fill="#F9AA96"/>
<rect x="564.28" y="619.93" width="11.28" height="2.87" fill="#FBF588"/>
<rect x="575.46" y="619.93" width="11.28" height="2.87" fill="#F77E80"/>
<rect x="586.64" y="619.93" width="11.28" height="2.87" fill="#F77E80"/>
<rect x="50.00" y="619.93" width="559.00" height="2.77" fill="url(#pb)"/>
<rect x="3.5" y="620.61" width="6.7" height="1.3" fill="#404040" opacity="0.32"/>
<rect x="29.5" y="622.70" width="20" height="2.82" fill="#FBD0BA"/>
<rect x="50.00" y="622.70" width="33.64" height="2.87" fill="#FBF588"/>
<rect x="83.54" y="622.70" width="11.28" height="2.87" fill="#F9AA96"/>
<rect x="94.72" y="622.70" width="11.28" height="2.87" fill="#FBF588"/>
<rect x="105.90" y="622.70" width="67.18" height="2.87" fill="#F9AA96"/>
<rect x="172.98" y="622.70" width="11.28" height="2.87" fill="#CDF0D6"/>
<rect x="184.16" y="622.70" width="44.82" height="2.87" fill="#F9AA96"/>
<rect x="228.88" y="622.70" width="11.28" height="2.87" fill="#F77E80"/>
<rect x="240.06" y="622.70" width="44.82" height="2.87" fill="#F9AA96"/>
<rect x="284.78" y="622.70" width="11.28" height="2.87" fill="#F77E80"/>
<rect x="295.96" y="622.70" width="11.28" height="2.87" fill="#F9AA96"/>
<rect x="307.14" y="622.70" width="11.28" height="2.87" fill="#F77E80"/>
<rect x="318.32" y="622.70" width="11.28" height="2.87" fill="#F9AA96"/>
<rect x="329.50" y="622.70" width="11.28" height="2.87" fill="#F77E80"/>
<rect x="340.68" y="622.70" width="11.28" height="2.87" fill="#F9AA96"/>
<rect x="351.86" y="622.70" width="22.46" height="2.87" fill="#F77E80"/>
<rect x="374.22" y="622.70" width="190.16" height="2.87" fill="#F9AA96"/>
<rect x="564.28" y="622.70" width="11.28" height="2.87" fill="#FBF588"/>
<rect x="575.46" y="622.70" width="22.46" height="2.87" fill="#F9AA96"/>
<rect x="597.82" y="622.70" width="11.28" height="2.87" fill="#F9AA96"/>
<rect x="50.00" y="622.70" width="570.18" height="2.77" fill="url(#pb)"/>
<rect x="3.5" y="623.38" width="10.1" height="1.3" fill="#404040" opacity="0.32"/>
<rect x="29.5" y="625.47" width="20" height="2.82" fill="#F77E80"/>
<rect x="50.00" y="625.47" width="33.64" height="2.87" fill="#F9AA96"/>
<rect x="83.54" y="625.47" width="11.28" height="2.87" fill="#F77E80"/>
<rect x="94.72" y="625.47" width="22.46" height="2.87" fill="#FBF588"/>
<rect x="117.08" y="625.47" width="56.00" height="2.87" fill="#F9AA96"/>
<rect x="172.98" y="625.47" width="22.46" height="2.87" fill="#CDF0D6"/>
<rect x="195.34" y="625.47" width="100.72" height="2.87" fill="#F9AA96"/>
<rect x="295.96" y="625.47" width="11.28" height="2.87" fill="#F77E80"/>
<rect x="307.14" y="625.47" width="11.28" height="2.87" fill="#CDF0D6"/>
<rect x="318.32" y="625.47" width="44.82" height="2.87" fill="#F9AA96"/>
<rect x="363.04" y="625.47" width="11.28" height="2.87" fill="#F77E80"/>
<rect x="374.22" y="625.47" width="11.28" height="2.87" fill="#F9AA96"/>
<rect x="385.40" y="625.47" width="33.64" height="2.87" fill="#FBF588"/>
<rect x="418.94" y="625.47" width="11.28" height="2.87" fill="#F9AA96"/>
<rect x="430.12" y="625.47" width="11.28" height="2.87" fill="#FBF588"/>
<rect x="441.30" y="625.47" width="89.54" height="2.87" fill="#F9AA96"/>
<rect x="530.74" y="625.47" width="33.64" height="2.87" fill="#F77E80"/>
<rect x="564.28" y="625.47" width="11.28" height="2.87" fill="#F9AA96"/>
<rect x="575.46" y="625.47" width="22.46" height="2.87" fill="#F77E80"/>
<rect x="597.82" y="625.47" width="11.28" height="2.87" fill="#F9AA96"/>
<rect x="609.00" y="625.47" width="11.28" height="2.87" fill="#F77E80"/>
<rect x="50.00" y="625.47" width="581.36" height="2.77" fill="url(#pb)"/>
<rect x="3.5" y="626.15" width="6.0" height="1.3" fill="#404040" opacity="0.32"/>
<rect x="29.5" y="628.24" width="20" height="2.82" fill="#F9AA96"/>
<rect x="50.00" y="628.24" width="33.64" height="2.87" fill="#F9AA96"/>
<rect x="83.54" y="628.24" width="11.28" height="2.87" fill="#F77E80"/>
<rect x="94.72" y="628.24" width="22.46" height="2.87" fill="#FBF588"/>
<rect x="117.08" y="628.24" width="11.28" height="2.87" fill="#F77E80"/>
<rect x="128.26" y="628.24" width="44.82" height="2.87" fill="#F9AA96"/>
<rect x="172.98" y="628.24" width="11.28" height="2.87" fill="#FBD0BA"/>
<rect x="184.16" y="628.24" width="11.28" height="2.87" fill="#CDF0D6"/>
<rect x="195.34" y="628.24" width="11.28" height="2.87" fill="#F9AA96"/>
<rect x="206.52" y="628.24" width="11.28" height="2.87" fill="#F77E80"/>
<rect x="217.70" y="628.24" width="100.72" height="2.87" fill="#F9AA96"/>
<rect x="318.32" y="628.24" width="33.64" height="2.87" fill="#F77E80"/>
<rect x="351.86" y="628.24" width="11.28" height="2.87" fill="#CDF0D6"/>
<rect x="363.04" y="628.24" width="11.28" height="2.87" fill="#F77E80"/>
<rect x="374.22" y="628.24" width="11.28" height="2.87" fill="#F9AA96"/>
<rect x="385.40" y="628.24" width="22.46" height="2.87" fill="#FBF588"/>
<rect x="407.76" y="628.24" width="11.28" height="2.87" fill="#F9AA96"/>
<rect x="418.94" y="628.24" width="11.28" height="2.87" fill="#FBD0BA"/>
<rect x="430.12" y="628.24" width="11.28" height="2.87" fill="#FBF588"/>
<rect x="441.30" y="628.24" width="33.64" height="2.87" fill="#F9AA96"/>
<rect x="474.84" y="628.24" width="11.28" height="2.87" fill="#F77E80"/>
<rect x="486.02" y="628.24" width="22.46" height="2.87" fill="#F9AA96"/>
<rect x="508.38" y="628.24" width="11.28" height="2.87" fill="#F77E80"/>
<rect x="519.56" y="628.24" width="11.28" height="2.87" fill="#F9AA96"/>
<rect x="530.74" y="628.24" width="11.28" height="2.87" fill="#F77E80"/>
<rect x="541.92" y="628.24" width="78.36" height="2.87" fill="#F9AA96"/>
<rect x="620.18" y="628.24" width="11.28" height="2.87" fill="#F9AA96"/>
<rect x="50.00" y="628.24" width="592.54" height="2.77" fill="url(#pb)"/>
<rect x="3.5" y="628.92" width="12.1" height="1.3" fill="#404040" opacity="0.32"/>
<rect x="29.5" y="631.01" width="20" height="2.82" fill="#F9AA96"/>
<rect x="50.00" y="631.01" width="33.64" height="2.87" fill="#F77E80"/>
<rect x="83.54" y="631.01" width="33.64" height="2.87" fill="#F9AA96"/>
<rect x="117.08" y="631.01" width="11.28" height="2.87" fill="#F77E80"/>
<rect x="128.26" y="631.01" width="67.18" height="2.87" fill="#F9AA96"/>
<rect x="195.34" y="631.01" width="11.28" height="2.87" fill="#FBF588"/>
<rect x="206.52" y="631.01" width="11.28" height="2.87" fill="#F77E80"/>
<rect x="217.70" y="631.01" width="11.28" height="2.87" fill="#F9AA96"/>
<rect x="228.88" y="631.01" width="11.28" height="2.87" fill="#F77E80"/>
<rect x="240.06" y="631.01" width="22.46" height="2.87" fill="#F9AA96"/>
<rect x="262.42" y="631.01" width="33.64" height="2.87" fill="#F77E80"/>
<rect x="295.96" y="631.01" width="11.28" height="2.87" fill="#F9AA96"/>
<rect x="307.14" y="631.01" width="11.28" height="2.87" fill="#FBF588"/>
<rect x="318.32" y="631.01" width="123.08" height="2.87" fill="#F9AA96"/>
<rect x="441.30" y="631.01" width="11.28" height="2.87" fill="#F77E80"/>
<rect x="452.48" y="631.01" width="78.36" height="2.87" fill="#F9AA96"/>
<rect x="530.74" y="631.01" width="22.46" height="2.87" fill="#F77E80"/>
<rect x="553.10" y="631.01" width="11.28" height="2.87" fill="#FBD0BA"/>
<rect x="564.28" y="631.01" width="56.00" height="2.87" fill="#F9AA96"/>
<rect x="620.18" y="631.01" width="11.28" height="2.87" fill="#FBF588"/>
<rect x="631.36" y="631.01" width="11.28" height="2.87" fill="#F77E80"/>
<rect x="50.00" y="631.01" width="603.72" height="2.77" fill="url(#pb)"/>
<rect x="3.5" y="631.69" width="15.7" height="1.3" fill="#404040" opacity="0.32"/>
<rect x="29.5" y="633.78" width="20" height="2.82" fill="#FBF588"/>
<rect x="50.00" y="633.78" width="11.28" height="2.87" fill="#CDF0D6"/>
<rect x="61.18" y="633.78" width="22.46" height="2.87" fill="#F9AA96"/>
<rect x="83.54" y="633.78" width="11.28" height="2.87" fill="#FBF588"/>
<rect x="94.72" y="633.78" width="78.36" height="2.87" fill="#F9AA96"/>
<rect x="172.98" y="633.78" width="22.46" height="2.87" fill="#FBF588"/>
<rect x="195.34" y="633.78" width="89.54" height="2.87" fill="#F9AA96"/>
<rect x="284.78" y="633.78" width="11.28" height="2.87" fill="#FBF588"/>
<rect x="295.96" y="633.78" width="11.28" height="2.87" fill="#F9AA96"/>
<rect x="307.14" y="633.78" width="11.28" height="2.87" fill="#F77E80"/>
<rect x="318.32" y="633.78" width="67.18" height="2.87" fill="#F9AA96"/>
<rect x="385.40" y="633.78" width="33.64" height="2.87" fill="#FBF588"/>
<rect x="418.94" y="633.78" width="11.28" height="2.87" fill="#F77E80"/>
<rect x="430.12" y="633.78" width="22.46" height="2.87" fill="#F9AA96"/>
<rect x="452.48" y="633.78" width="11.28" height="2.87" fill="#F77E80"/>
<rect x="463.66" y="633.78" width="22.46" height="2.87" fill="#F9AA96"/>
<rect x="486.02" y="633.78" width="22.46" height="2.87" fill="#F77E80"/>
<rect x="508.38" y="633.78" width="33.64" height="2.87" fill="#F9AA96"/>
<rect x="541.92" y="633.78" width="11.28" height="2.87" fill="#F77E80"/>
<rect x="553.10" y="633.78" width="11.28" height="2.87" fill="#F9AA96"/>
<rect x="564.28" y="633.78" width="11.28" height="2.87" fill="#FBD0BA"/>
<rect x="575.46" y="633.78" width="22.46" height="2.87" fill="#F9AA96"/>
<rect x="597.82" y="633.78" width="22.46" height="2.87" fill="#F77E80"/>
<rect x="620.18" y="633.78" width="22.46" height="2.87" fill="#F9AA96"/>
<rect x="642.54" y="633.78" width="11.28" height="2.87" fill="#F77E80"/>
<rect x="50.00" y="633.78" width="614.90" height="2.77" fill="url(#pb)"/>
<rect x="3.5" y="634.46" width="16.2" height="1.3" fill="#404040" opacity="0.32"/>
<rect x="29.5" y="636.55" width="20" height="2.82" fill="#FBF588"/>
<rect x="50.00" y="636.55" width="11.28" height="2.87" fill="#F9AA96"/>
<rect x="61.18" y="636.55" width="11.28" height="2.87" fill="#FBF588"/>
<rect x="72.36" y="636.55" width="11.28" height="2.87" fill="#F77E80"/>
<rect x="83.54" y="636.55" width="22.46" height="2.87" fill="#FBF588"/>
<rect x="105.90" y="636.55" width="11.28" height="2.87" fill="#F77E80"/>
<rect x="117.08" y="636.55" width="11.28" height="2.87" fill="#FBE4DA"/>
<rect x="128.26" y="636.55" width="11.28" height="2.87" fill="#F9AA96"/>
<rect x="139.44" y="636.55" width="11.28" height="2.87" fill="#F77E80"/>
<rect x="150.62" y="636.55" width="22.46" height="2.87" fill="#F9AA96"/>
<rect x="172.98" y="636.55" width="22.46" height="2.87" fill="#FBF588"/>
<rect x="195.34" y="636.55" width="78.36" height="2.87" fill="#F9AA96"/>
<rect x="273.60" y="636.55" width="22.46" height="2.87" fill="#FBF588"/>
<rect x="295.96" y="636.55" width="11.28" height="2.87" fill="#F77E80"/>
<rect x="307.14" y="636.55" width="11.28" height="2.87" fill="#F9AA96"/>
<rect x="318.32" y="636.55" width="22.46" height="2.87" fill="#F77E80"/>
<rect x="340.68" y="636.55" width="100.72" height="2.87" fill="#F9AA96"/>
<rect x="441.30" y="636.55" width="11.28" height="2.87" fill="#F77E80"/>
<rect x="452.48" y="636.55" width="67.18" height="2.87" fill="#F9AA96"/>
<rect x="519.56" y="636.55" width="22.46" height="2.87" fill="#F77E80"/>
<rect x="541.92" y="636.55" width="11.28" height="2.87" fill="#F9AA96"/>
<rect x="553.10" y="636.55" width="22.46" height="2.87" fill="#FBF588"/>
<rect x="575.46" y="636.55" width="11.28" height="2.87" fill="#F77E80"/>
<rect x="586.64" y="636.55" width="11.28" height="2.87" fill="#FBF588"/>
<rect x="597.82" y="636.55" width="44.82" height="2.87" fill="#F9AA96"/>
<rect x="642.54" y="636.55" width="11.28" height="2.87" fill="#F77E80"/>
<rect x="653.72" y="636.55" width="11.28" height="2.87" fill="#FBF588"/>
<rect x="50.00" y="636.55" width="626.08" height="2.77" fill="url(#pb)"/>
<rect x="3.5" y="637.23" width="8.6" height="1.3" fill="#404040" opacity="0.32"/>
<rect x="29.5" y="639.32" width="20" height="2.82" fill="#FBF588"/>
<rect x="50.00" y="639.32" width="22.46" height="2.87" fill="#CDF0D6"/>
<rect x="72.36" y="639.32" width="22.46" height="2.87" fill="#F9AA96"/>
<rect x="94.72" y="639.32" width="11.28" height="2.87" fill="#CDF0D6"/>
<rect x="105.90" y="639.32" width="11.28" height="2.87" fill="#FBF588"/>
<rect x="117.08" y="639.32" width="56.00" height="2.87" fill="#F9AA96"/>
<rect x="172.98" y="639.32" width="22.46" height="2.87" fill="#FBF588"/>
<rect x="195.34" y="639.32" width="11.28" height="2.87" fill="#F9AA96"/>
<rect x="206.52" y="639.32" width="11.28" height="2.87" fill="#FBF588"/>
<rect x="217.70" y="639.32" width="11.28" height="2.87" fill="#F9AA96"/>
<rect x="228.88" y="639.32" width="11.28" height="2.87" fill="#F77E80"/>
<rect x="240.06" y="639.32" width="33.64" height="2.87" fill="#F9AA96"/>
<rect x="273.60" y="639.32" width="22.46" height="2.87" fill="#FBF588"/>
<rect x="295.96" y="639.32" width="11.28" height="2.87" fill="#F77E80"/>
<rect x="307.14" y="639.32" width="33.64" height="2.87" fill="#F9AA96"/>
<rect x="340.68" y="639.32" width="11.28" height="2.87" fill="#F77E80"/>
<rect x="351.86" y="639.32" width="33.64" height="2.87" fill="#F9AA96"/>
<rect x="385.40" y="639.32" width="11.28" height="2.87" fill="#FBF588"/>
<rect x="396.58" y="639.32" width="11.28" height="2.87" fill="#FBD0BA"/>
<rect x="407.76" y="639.32" width="11.28" height="2.87" fill="#F9AA96"/>
<rect x="418.94" y="639.32" width="11.28" height="2.87" fill="#F77E80"/>
<rect x="430.12" y="639.32" width="44.82" height="2.87" fill="#F9AA96"/>
<rect x="474.84" y="639.32" width="11.28" height="2.87" fill="#FBD0BA"/>
<rect x="486.02" y="639.32" width="56.00" height="2.87" fill="#F9AA96"/>
<rect x="541.92" y="639.32" width="11.28" height="2.87" fill="#F77E80"/>
<rect x="553.10" y="639.32" width="11.28" height="2.87" fill="#F9AA96"/>
<rect x="564.28" y="639.32" width="11.28" height="2.87" fill="#F77E80"/>
<rect x="575.46" y="639.32" width="22.46" height="2.87" fill="#F9AA96"/>
<rect x="597.82" y="639.32" width="11.28" height="2.87" fill="#FBF588"/>
<rect x="609.00" y="639.32" width="11.28" height="2.87" fill="#FBD0BA"/>
<rect x="620.18" y="639.32" width="11.28" height="2.87" fill="#FBF588"/>
<rect x="631.36" y="639.32" width="22.46" height="2.87" fill="#F9AA96"/>
<rect x="653.72" y="639.32" width="11.28" height="2.87" fill="#8FE0A0"/>
<rect x="664.90" y="639.32" width="11.28" height="2.87" fill="#FBF588"/>
<rect x="50.00" y="639.32" width="637.26" height="2.77" fill="url(#pb)"/>
<rect x="3.5" y="640.00" width="10.4" height="1.3" fill="#404040" opacity="0.32"/>
<rect x="29.5" y="642.09" width="20" height="2.82" fill="#F9AA96"/>
<rect x="50.00" y="642.09" width="22.46" height="2.87" fill="#F9AA96"/>
<rect x="72.36" y="642.09" width="11.28" height="2.87" fill="#FBF588"/>
<rect x="83.54" y="642.09" width="11.28" height="2.87" fill="#F77E80"/>
<rect x="94.72" y="642.09" width="33.64" height="2.87" fill="#F9AA96"/>
<rect x="128.26" y="642.09" width="22.46" height="2.87" fill="#8FE0A0"/>
<rect x="150.62" y="642.09" width="11.28" height="2.87" fill="#F9AA96"/>
<rect x="161.80" y="642.09" width="11.28" height="2.87" fill="#8FE0A0"/>
<rect x="172.98" y="642.09" width="22.46" height="2.87" fill="#F9AA96"/>
<rect x="195.34" y="642.09" width="11.28" height="2.87" fill="#F77E80"/>
<rect x="206.52" y="642.09" width="11.28" height="2.87" fill="#F9AA96"/>
<rect x="217.70" y="642.09" width="22.46" height="2.87" fill="#F77E80"/>
<rect x="240.06" y="642.09" width="11.28" height="2.87" fill="#FBE4DA"/>
<rect x="251.24" y="642.09" width="22.46" height="2.87" fill="#F9AA96"/>
<rect x="273.60" y="642.09" width="22.46" height="2.87" fill="#FBF588"/>
<rect x="295.96" y="642.09" width="22.46" height="2.87" fill="#F9AA96"/>
<rect x="318.32" y="642.09" width="11.28" height="2.87" fill="#F77E80"/>
<rect x="329.50" y="642.09" width="22.46" height="2.87" fill="#F9AA96"/>
<rect x="351.86" y="642.09" width="22.46" height="2.87" fill="#F77E80"/>
<rect x="374.22" y="642.09" width="44.82" height="2.87" fill="#F9AA96"/>
<rect x="418.94" y="642.09" width="22.46" height="2.87" fill="#FBF588"/>
<rect x="441.30" y="642.09" width="11.28" height="2.87" fill="#F77E80"/>
<rect x="452.48" y="642.09" width="11.28" height="2.87" fill="#8FE0A0"/>
<rect x="463.66" y="642.09" width="11.28" height="2.87" fill="#F9AA96"/>
<rect x="474.84" y="642.09" width="11.28" height="2.87" fill="#F77E80"/>
<rect x="486.02" y="642.09" width="44.82" height="2.87" fill="#F9AA96"/>
<rect x="530.74" y="642.09" width="11.28" height="2.87" fill="#F77E80"/>
<rect x="541.92" y="642.09" width="11.28" height="2.87" fill="#F9AA96"/>
<rect x="553.10" y="642.09" width="11.28" height="2.87" fill="#FBF588"/>
<rect x="564.28" y="642.09" width="11.28" height="2.87" fill="#F9AA96"/>
<rect x="575.46" y="642.09" width="11.28" height="2.87" fill="#FBE4DA"/>
<rect x="586.64" y="642.09" width="11.28" height="2.87" fill="#FBF588"/>
<rect x="597.82" y="642.09" width="56.00" height="2.87" fill="#F9AA96"/>
<rect x="653.72" y="642.09" width="11.28" height="2.87" fill="#F77E80"/>
<rect x="664.90" y="642.09" width="22.46" height="2.87" fill="#F9AA96"/>
<rect x="50.00" y="642.09" width="648.44" height="2.77" fill="url(#pb)"/>
<rect x="3.5" y="642.77" width="9.7" height="1.3" fill="#404040" opacity="0.32"/>
<rect x="29.5" y="644.86" width="20" height="2.82" fill="#FBD0BA"/>
<rect x="50.00" y="644.86" width="22.46" height="2.87" fill="#F9AA96"/>
<rect x="72.36" y="644.86" width="11.28" height="2.87" fill="#FBF588"/>
<rect x="83.54" y="644.86" width="11.28" height="2.87" fill="#F77E80"/>
<rect x="94.72" y="644.86" width="11.28" height="2.87" fill="#FBD0BA"/>
<rect x="105.90" y="644.86" width="11.28" height="2.87" fill="#F9AA96"/>
<rect x="117.08" y="644.86" width="11.28" height="2.87" fill="#F77E80"/>
<rect x="128.26" y="644.86" width="111.90" height="2.87" fill="#F9AA96"/>
<rect x="240.06" y="644.86" width="11.28" height="2.87" fill="#F77E80"/>
<rect x="251.24" y="644.86" width="123.08" height="2.87" fill="#F9AA96"/>
<rect x="374.22" y="644.86" width="11.28" height="2.87" fill="#CDF0D6"/>
<rect x="385.40" y="644.86" width="33.64" height="2.87" fill="#F9AA96"/>
<rect x="418.94" y="644.86" width="11.28" height="2.87" fill="#FBD0BA"/>
<rect x="430.12" y="644.86" width="11.28" height="2.87" fill="#F9AA96"/>
<rect x="441.30" y="644.86" width="11.28" height="2.87" fill="#F77E80"/>
<rect x="452.48" y="644.86" width="56.00" height="2.87" fill="#F9AA96"/>
<rect x="508.38" y="644.86" width="33.64" height="2.87" fill="#F77E80"/>
<rect x="541.92" y="644.86" width="33.64" height="2.87" fill="#F9AA96"/>
<rect x="575.46" y="644.86" width="11.28" height="2.87" fill="#F77E80"/>
<rect x="586.64" y="644.86" width="11.28" height="2.87" fill="#F9AA96"/>
<rect x="597.82" y="644.86" width="11.28" height="2.87" fill="#F77E80"/>
<rect x="609.00" y="644.86" width="56.00" height="2.87" fill="#F9AA96"/>
<rect x="664.90" y="644.86" width="11.28" height="2.87" fill="#F77E80"/>
<rect x="676.08" y="644.86" width="22.46" height="2.87" fill="#F9AA96"/>
<rect x="50.00" y="644.86" width="659.62" height="2.77" fill="url(#pb)"/>
<rect x="3.5" y="645.54" width="16.5" height="1.3" fill="#404040" opacity="0.32"/>
<rect x="29.5" y="647.63" width="20" height="2.82" fill="#F9AA96"/>
<rect x="50.00" y="647.63" width="33.64" height="2.87" fill="#F9AA96"/>
<rect x="83.54" y="647.63" width="11.28" height="2.87" fill="#F77E80"/>
<rect x="94.72" y="647.63" width="11.28" height="2.87" fill="#FBF588"/>
<rect x="105.90" y="647.63" width="33.64" height="2.87" fill="#F9AA96"/>
<rect x="139.44" y="647.63" width="11.28" height="2.87" fill="#F77E80"/>
<rect x="150.62" y="647.63" width="33.64" height="2.87" fill="#F9AA96"/>
<rect x="184.16" y="647.63" width="11.28" height="2.87" fill="#FBF588"/>
<rect x="195.34" y="647.63" width="44.82" height="2.87" fill="#F9AA96"/>
<rect x="240.06" y="647.63" width="11.28" height="2.87" fill="#F77E80"/>
<rect x="251.24" y="647.63" width="11.28" height="2.87" fill="#F9AA96"/>
<rect x="262.42" y="647.63" width="11.28" height="2.87" fill="#CDF0D6"/>
<rect x="273.60" y="647.63" width="22.46" height="2.87" fill="#F9AA96"/>
<rect x="295.96" y="647.63" width="11.28" height="2.87" fill="#F77E80"/>
<rect x="307.14" y="647.63" width="33.64" height="2.87" fill="#F9AA96"/>
<rect x="340.68" y="647.63" width="11.28" height="2.87" fill="#F77E80"/>
<rect x="351.86" y="647.63" width="89.54" height="2.87" fill="#F9AA96"/>
<rect x="441.30" y="647.63" width="11.28" height="2.87" fill="#F77E80"/>
<rect x="452.48" y="647.63" width="44.82" height="2.87" fill="#F9AA96"/>
<rect x="497.20" y="647.63" width="11.28" height="2.87" fill="#F77E80"/>
<rect x="508.38" y="647.63" width="134.26" height="2.87" fill="#F9AA96"/>
<rect x="642.54" y="647.63" width="22.46" height="2.87" fill="#F77E80"/>
<rect x="664.90" y="647.63" width="33.64" height="2.87" fill="#F9AA96"/>
<rect x="698.44" y="647.63" width="11.28" height="2.87" fill="#F77E80"/>
<rect x="50.00" y="647.63" width="670.80" height="2.77" fill="url(#pb)"/>
<rect x="3.5" y="648.31" width="17.5" height="1.3" fill="#404040" opacity="0.32"/>
<rect x="29.5" y="650.40" width="20" height="2.82" fill="#F77E80"/>
<rect x="50.00" y="650.40" width="44.82" height="2.87" fill="#F9AA96"/>
<rect x="94.72" y="650.40" width="22.46" height="2.87" fill="#FBF588"/>
<rect x="117.08" y="650.40" width="67.18" height="2.87" fill="#F9AA96"/>
<rect x="184.16" y="650.40" width="11.28" height="2.87" fill="#FBF588"/>
<rect x="195.34" y="650.40" width="44.82" height="2.87" fill="#F9AA96"/>
<rect x="240.06" y="650.40" width="11.28" height="2.87" fill="#FBE4DA"/>
<rect x="251.24" y="650.40" width="100.72" height="2.87" fill="#F9AA96"/>
<rect x="351.86" y="650.40" width="22.46" height="2.87" fill="#F77E80"/>
<rect x="374.22" y="650.40" width="56.00" height="2.87" fill="#F9AA96"/>
<rect x="430.12" y="650.40" width="11.28" height="2.87" fill="#FBF588"/>
<rect x="441.30" y="650.40" width="22.46" height="2.87" fill="#F9AA96"/>
<rect x="463.66" y="650.40" width="11.28" height="2.87" fill="#8FE0A0"/>
<rect x="474.84" y="650.40" width="11.28" height="2.87" fill="#F77E80"/>
<rect x="486.02" y="650.40" width="145.44" height="2.87" fill="#F9AA96"/>
<rect x="631.36" y="650.40" width="11.28" height="2.87" fill="#CDF0D6"/>
<rect x="642.54" y="650.40" width="78.36" height="2.87" fill="#F9AA96"/>
<rect x="50.00" y="650.40" width="681.98" height="2.77" fill="url(#pb)"/>
<rect x="3.5" y="651.08" width="7.0" height="1.3" fill="#404040" opacity="0.32"/>
<rect x="29.5" y="653.17" width="20" height="2.82" fill="#F9AA96"/>
<rect x="50.00" y="653.17" width="22.46" height="2.87" fill="#F9AA96"/>
<rect x="72.36" y="653.17" width="11.28" height="2.87" fill="#F77E80"/>
<rect x="83.54" y="653.17" width="22.46" height="2.87" fill="#FBF588"/>
<rect x="105.90" y="653.17" width="11.28" height="2.87" fill="#F77E80"/>
<rect x="117.08" y="653.17" width="123.08" height="2.87" fill="#F9AA96"/>
<rect x="240.06" y="653.17" width="11.28" height="2.87" fill="#F77E80"/>
<rect x="251.24" y="653.17" width="44.82" height="2.87" fill="#F9AA96"/>
<rect x="295.96" y="653.17" width="11.28" height="2.87" fill="#CDF0D6"/>
<rect x="307.14" y="653.17" width="44.82" height="2.87" fill="#F9AA96"/>
<rect x="351.86" y="653.17" width="11.28" height="2.87" fill="#CDF0D6"/>
<rect x="363.04" y="653.17" width="67.18" height="2.87" fill="#F9AA96"/>
<rect x="430.12" y="653.17" width="11.28" height="2.87" fill="#FBF588"/>
<rect x="441.30" y="653.17" width="33.64" height="2.87" fill="#F9AA96"/>
<rect x="474.84" y="653.17" width="11.28" height="2.87" fill="#F77E80"/>
<rect x="486.02" y="653.17" width="145.44" height="2.87" fill="#F9AA96"/>
<rect x="631.36" y="653.17" width="11.28" height="2.87" fill="#8FE0A0"/>
<rect x="642.54" y="653.17" width="22.46" height="2.87" fill="#F9AA96"/>
<rect x="664.90" y="653.17" width="11.28" height="2.87" fill="#F77E80"/>
<rect x="676.08" y="653.17" width="56.00" height="2.87" fill="#F9AA96"/>
<rect x="50.00" y="653.17" width="693.16" height="2.77" fill="url(#pb)"/>
<rect x="3.5" y="653.85" width="7.3" height="1.3" fill="#404040" opacity="0.32"/>
<rect x="29.5" y="655.94" width="20" height="2.82" fill="#8FE0A0"/>
<rect x="50.00" y="655.94" width="44.82" height="2.87" fill="#F77E80"/>
<rect x="94.72" y="655.94" width="22.46" height="2.87" fill="#F9AA96"/>
<rect x="117.08" y="655.94" width="11.28" height="2.87" fill="#F77E80"/>
<rect x="128.26" y="655.94" width="67.18" height="2.87" fill="#F9AA96"/>
<rect x="195.34" y="655.94" width="22.46" height="2.87" fill="#F77E80"/>
<rect x="217.70" y="655.94" width="33.64" height="2.87" fill="#F9AA96"/>
<rect x="251.24" y="655.94" width="22.46" height="2.87" fill="#F77E80"/>
<rect x="273.60" y="655.94" width="11.28" height="2.87" fill="#F9AA96"/>
<rect x="284.78" y="655.94" width="11.28" height="2.87" fill="#8FE0A0"/>
<rect x="295.96" y="655.94" width="22.46" height="2.87" fill="#F9AA96"/>
<rect x="318.32" y="655.94" width="11.28" height="2.87" fill="#F77E80"/>
<rect x="329.50" y="655.94" width="22.46" height="2.87" fill="#F9AA96"/>
<rect x="351.86" y="655.94" width="11.28" height="2.87" fill="#F77E80"/>
<rect x="363.04" y="655.94" width="22.46" height="2.87" fill="#F9AA96"/>
<rect x="385.40" y="655.94" width="22.46" height="2.87" fill="#FBF588"/>
<rect x="407.76" y="655.94" width="22.46" height="2.87" fill="#F9AA96"/>
<rect x="430.12" y="655.94" width="11.28" height="2.87" fill="#FBF588"/>
<rect x="441.30" y="655.94" width="67.18" height="2.87" fill="#F9AA96"/>
<rect x="508.38" y="655.94" width="22.46" height="2.87" fill="#F77E80"/>
<rect x="530.74" y="655.94" width="22.46" height="2.87" fill="#F9AA96"/>
<rect x="553.10" y="655.94" width="11.28" height="2.87" fill="#8FE0A0"/>
<rect x="564.28" y="655.94" width="11.28" height="2.87" fill="#FBF588"/>
<rect x="575.46" y="655.94" width="11.28" height="2.87" fill="#F9AA96"/>
<rect x="586.64" y="655.94" width="11.28" height="2.87" fill="#8FE0A0"/>
<rect x="597.82" y="655.94" width="11.28" height="2.87" fill="#FBF588"/>
<rect x="609.00" y="655.94" width="22.46" height="2.87" fill="#F77E80"/>
<rect x="631.36" y="655.94" width="22.46" height="2.87" fill="#F9AA96"/>
<rect x="653.72" y="655.94" width="11.28" height="2.87" fill="#FBF588"/>
<rect x="664.90" y="655.94" width="11.28" height="2.87" fill="#F9AA96"/>
<rect x="676.08" y="655.94" width="11.28" height="2.87" fill="#FBF588"/>
<rect x="687.26" y="655.94" width="11.28" height="2.87" fill="#F9AA96"/>
<rect x="698.44" y="655.94" width="11.28" height="2.87" fill="#CDF0D6"/>
<rect x="709.62" y="655.94" width="11.28" height="2.87" fill="#F9AA96"/>
<rect x="720.80" y="655.94" width="22.46" height="2.87" fill="#F77E80"/>
<rect x="50.00" y="655.94" width="704.34" height="2.77" fill="url(#pb)"/>
<rect x="3.5" y="656.62" width="8.0" height="1.3" fill="#404040" opacity="0.32"/>
<rect x="29.5" y="658.71" width="20" height="2.82" fill="#FBF588"/>
<rect x="50.00" y="658.71" width="67.18" height="2.87" fill="#F9AA96"/>
<rect x="117.08" y="658.71" width="11.28" height="2.87" fill="#F77E80"/>
<rect x="128.26" y="658.71" width="44.82" height="2.87" fill="#F9AA96"/>
<rect x="172.98" y="658.71" width="22.46" height="2.87" fill="#F77E80"/>
<rect x="195.34" y="658.71" width="11.28" height="2.87" fill="#F9AA96"/>
<rect x="206.52" y="658.71" width="11.28" height="2.87" fill="#F77E80"/>
<rect x="217.70" y="658.71" width="11.28" height="2.87" fill="#F9AA96"/>
<rect x="228.88" y="658.71" width="11.28" height="2.87" fill="#F77E80"/>
<rect x="240.06" y="658.71" width="11.28" height="2.87" fill="#F9AA96"/>
<rect x="251.24" y="658.71" width="11.28" height="2.87" fill="#F77E80"/>
<rect x="262.42" y="658.71" width="11.28" height="2.87" fill="#F9AA96"/>
<rect x="273.60" y="658.71" width="11.28" height="2.87" fill="#F77E80"/>
<rect x="284.78" y="658.71" width="56.00" height="2.87" fill="#F9AA96"/>
<rect x="340.68" y="658.71" width="11.28" height="2.87" fill="#FBF588"/>
<rect x="351.86" y="658.71" width="67.18" height="2.87" fill="#F9AA96"/>
<rect x="418.94" y="658.71" width="11.28" height="2.87" fill="#F77E80"/>
<rect x="430.12" y="658.71" width="11.28" height="2.87" fill="#F9AA96"/>
<rect x="441.30" y="658.71" width="22.46" height="2.87" fill="#F77E80"/>
<rect x="463.66" y="658.71" width="111.90" height="2.87" fill="#F9AA96"/>
<rect x="575.46" y="658.71" width="11.28" height="2.87" fill="#FBD0BA"/>
<rect x="586.64" y="658.71" width="11.28" height="2.87" fill="#FBF588"/>
<rect x="597.82" y="658.71" width="11.28" height="2.87" fill="#F9AA96"/>
<rect x="609.00" y="658.71" width="11.28" height="2.87" fill="#F77E80"/>
<rect x="620.18" y="658.71" width="67.18" height="2.87" fill="#F9AA96"/>
<rect x="687.26" y="658.71" width="11.28" height="2.87" fill="#F77E80"/>
<rect x="698.44" y="658.71" width="22.46" height="2.87" fill="#F9AA96"/>
<rect x="720.80" y="658.71" width="11.28" height="2.87" fill="#F77E80"/>
<rect x="731.98" y="658.71" width="11.28" height="2.87" fill="#F9AA96"/>
<rect x="743.16" y="658.71" width="11.28" height="2.87" fill="#FBF588"/>
<rect x="50.00" y="658.71" width="715.52" height="2.77" fill="url(#pb)"/>
<rect x="3.5" y="659.39" width="25.0" height="1.3" fill="#404040" opacity="0.32"/>
<rect x="29.5" y="484.20" width="20" height="177.28" fill="url(#pc)"/>
<rect x="52.71" y="475.4" width="5.76" height="1.5" fill="#505060" opacity="0.3"/>
<rect x="62.71" y="475.4" width="8.12" height="1.5" fill="#505060" opacity="0.3"/>
<rect x="74.93" y="475.4" width="6.04" height="1.5" fill="#505060" opacity="0.3"/>
<rect x="86.92" y="475.4" width="4.42" height="1.5" fill="#505060" opacity="0.3"/>
<rect x="96.99" y="475.4" width="6.65" height="1.5" fill="#505060" opacity="0.3"/>
<rect x="109.50" y="475.4" width="3.97" height="1.5" fill="#505060" opacity="0.3"/>
<rect x="109.81" y="477.6" width="3.36" height="1.4" fill="#505060" opacity="0.28"/>
<rect x="118.90" y="475.4" width="7.55" height="1.5" fill="#505060" opacity="0.3"/>
<rect x="132.00" y="475.4" width="3.71" height="1.5" fill="#505060" opacity="0.3"/>
<rect x="140.87" y="475.4" width="8.32" height="1.5" fill="#505060" opacity="0.3"/>
<rect x="152.92" y="475.4" width="6.58" height="1.5" fill="#505060" opacity="0.3"/>
<rect x="154.68" y="477.6" width="3.06" height="1.4" fill="#505060" opacity="0.28"/>
<rect x="164.32" y="475.4" width="6.14" height="1.5" fill="#505060" opacity="0.3"/>
<rect x="165.51" y="477.6" width="3.76" height="1.4" fill="#505060" opacity="0.28"/>
<rect x="176.22" y="475.4" width="4.71" height="1.5" fill="#505060" opacity="0.3"/>
<rect x="176.14" y="477.6" width="4.86" height="1.4" fill="#505060" opacity="0.28"/>
<rect x="186.90" y="475.4" width="5.70" height="1.5" fill="#505060" opacity="0.3"/>
<rect x="197.88" y="475.4" width="6.10" height="1.5" fill="#505060" opacity="0.3"/>
<rect x="209.11" y="475.4" width="6.00" height="1.5" fill="#505060" opacity="0.3"/>
<rect x="220.40" y="475.4" width="5.79" height="1.5" fill="#505060" opacity="0.3"/>
<rect x="219.79" y="477.6" width="6.99" height="1.4" fill="#505060" opacity="0.28"/>
<rect x="230.23" y="475.4" width="8.48" height="1.5" fill="#505060" opacity="0.3"/>
<rect x="242.13" y="475.4" width="7.04" height="1.5" fill="#505060" opacity="0.3"/>
<rect x="243.69" y="477.6" width="3.92" height="1.4" fill="#505060" opacity="0.28"/>
<rect x="254.36" y="475.4" width="4.95" height="1.5" fill="#505060" opacity="0.3"/>
<rect x="253.80" y="477.6" width="6.07" height="1.4" fill="#505060" opacity="0.28"/>
<rect x="265.26" y="475.4" width="5.50" height="1.5" fill="#505060" opacity="0.3"/>
<rect x="276.47" y="475.4" width="5.43" height="1.5" fill="#505060" opacity="0.3"/>
<rect x="286.50" y="475.4" width="7.74" height="1.5" fill="#505060" opacity="0.3"/>
<rect x="288.45" y="477.6" width="3.84" height="1.4" fill="#505060" opacity="0.28"/>
<rect x="297.52" y="475.4" width="8.05" height="1.5" fill="#505060" opacity="0.3"/>
<rect x="308.53" y="475.4" width="8.40" height="1.5" fill="#505060" opacity="0.3"/>
<rect x="321.98" y="475.4" width="3.87" height="1.5" fill="#505060" opacity="0.3"/>
<rect x="331.39" y="475.4" width="7.39" height="1.5" fill="#505060" opacity="0.3"/>
<rect x="333.42" y="477.6" width="3.35" height="1.4" fill="#505060" opacity="0.28"/>
<rect x="343.69" y="475.4" width="5.16" height="1.5" fill="#505060" opacity="0.3"/>
<rect x="353.80" y="475.4" width="7.29" height="1.5" fill="#505060" opacity="0.3"/>
<rect x="355.46" y="477.6" width="3.99" height="1.4" fill="#505060" opacity="0.28"/>
<rect x="366.63" y="475.4" width="4.01" height="1.5" fill="#505060" opacity="0.3"/>
<rect x="365.54" y="477.6" width="6.19" height="1.4" fill="#505060" opacity="0.28"/>
<rect x="377.62" y="475.4" width="4.39" height="1.5" fill="#505060" opacity="0.3"/>
<rect x="388.12" y="475.4" width="5.74" height="1.5" fill="#505060" opacity="0.3"/>
<rect x="388.03" y="477.6" width="5.93" height="1.4" fill="#505060" opacity="0.28"/>
<rect x="400.09" y="475.4" width="4.15" height="1.5" fill="#505060" opacity="0.3"/>
<rect x="411.31" y="475.4" width="4.08" height="1.5" fill="#505060" opacity="0.3"/>
<rect x="422.25" y="475.4" width="4.56" height="1.5" fill="#505060" opacity="0.3"/>
<rect x="421.09" y="477.6" width="6.88" height="1.4" fill="#505060" opacity="0.28"/>
<rect x="431.95" y="475.4" width="7.52" height="1.5" fill="#505060" opacity="0.3"/>
<rect x="432.44" y="477.6" width="6.54" height="1.4" fill="#505060" opacity="0.28"/>
<rect x="444.61" y="475.4" width="4.55" height="1.5" fill="#505060" opacity="0.3"/>
<rect x="454.18" y="475.4" width="7.77" height="1.5" fill="#505060" opacity="0.3"/>
<rect x="467.25" y="475.4" width="4.00" height="1.5" fill="#505060" opacity="0.3"/>
<rect x="478.15" y="475.4" width="4.57" height="1.5" fill="#505060" opacity="0.3"/>
<rect x="477.38" y="477.6" width="6.09" height="1.4" fill="#505060" opacity="0.28"/>
<rect x="489.04" y="475.4" width="5.14" height="1.5" fill="#505060" opacity="0.3"/>
<rect x="489.96" y="477.6" width="3.29" height="1.4" fill="#505060" opacity="0.28"/>
<rect x="500.81" y="475.4" width="3.95" height="1.5" fill="#505060" opacity="0.3"/>
<rect x="511.61" y="475.4" width="4.72" height="1.5" fill="#505060" opacity="0.3"/>
<rect x="522.47" y="475.4" width="5.36" height="1.5" fill="#505060" opacity="0.3"/>
<rect x="532.18" y="475.4" width="8.30" height="1.5" fill="#505060" opacity="0.3"/>
<rect x="544.32" y="475.4" width="6.37" height="1.5" fill="#505060" opacity="0.3"/>
<rect x="556.48" y="475.4" width="4.41" height="1.5" fill="#505060" opacity="0.3"/>
<rect x="555.37" y="477.6" width="6.63" height="1.4" fill="#505060" opacity="0.28"/>
<rect x="566.08" y="475.4" width="7.59" height="1.5" fill="#505060" opacity="0.3"/>
<rect x="567.99" y="477.6" width="3.76" height="1.4" fill="#505060" opacity="0.28"/>
<rect x="577.45" y="475.4" width="7.20" height="1.5" fill="#505060" opacity="0.3"/>
<rect x="589.99" y="475.4" width="4.48" height="1.5" fill="#505060" opacity="0.3"/>
<rect x="599.45" y="475.4" width="7.91" height="1.5" fill="#505060" opacity="0.3"/>
<rect x="611.79" y="475.4" width="5.61" height="1.5" fill="#505060" opacity="0.3"/>
<rect x="613.01" y="477.6" width="3.15" height="1.4" fill="#505060" opacity="0.28"/>
<rect x="621.61" y="475.4" width="8.31" height="1.5" fill="#505060" opacity="0.3"/>
<rect x="622.86" y="477.6" width="5.82" height="1.4" fill="#505060" opacity="0.28"/>
<rect x="634.56" y="475.4" width="4.78" height="1.5" fill="#505060" opacity="0.3"/>
<rect x="644.89" y="475.4" width="6.48" height="1.5" fill="#505060" opacity="0.3"/>
<rect x="646.28" y="477.6" width="3.70" height="1.4" fill="#505060" opacity="0.28"/>
<rect x="655.76" y="475.4" width="7.10" height="1.5" fill="#505060" opacity="0.3"/>
<rect x="657.35" y="477.6" width="3.91" height="1.4" fill="#505060" opacity="0.28"/>
<rect x="667.34" y="475.4" width="6.30" height="1.5" fill="#505060" opacity="0.3"/>
<rect x="678.38" y="475.4" width="6.57" height="1.5" fill="#505060" opacity="0.3"/>
<rect x="678.34" y="477.6" width="6.67" height="1.4" fill="#505060" opacity="0.28"/>
<rect x="690.59" y="475.4" width="4.52" height="1.5" fill="#505060" opacity="0.3"/>
<rect x="690.81" y="477.6" width="4.08" height="1.4" fill="#505060" opacity="0.28"/>
<rect x="701.17" y="475.4" width="5.73" height="1.5" fill="#505060" opacity="0.3"/>
<rect x="702.18" y="477.6" width="3.71" height="1.4" fill="#505060" opacity="0.28"/>
<rect x="712.54" y="475.4" width="5.34" height="1.5" fill="#505060" opacity="0.3"/>
<rect x="724.31" y="475.4" width="4.16" height="1.5" fill="#505060" opacity="0.3"/>
<rect x="733.59" y="475.4" width="7.95" height="1.5" fill="#505060" opacity="0.3"/>
<rect x="745.36" y="475.4" width="6.78" height="1.5" fill="#505060" opacity="0.3"/>
<rect x="756.72" y="475.4" width="6.42" height="1.5" fill="#505060" opacity="0.3"/>
<rect x="758.36" y="477.6" width="3.14" height="1.4" fill="#505060" opacity="0.28"/>
<rect x="8" y="475.4" width="12" height="1.5" fill="#505060" opacity="0.3"/>
<rect x="33" y="475.6" width="13" height="1.4" fill="#553" opacity="0.5"/>
<rect x="35" y="477.8" width="9" height="1.4" fill="#553" opacity="0.5"/>
<rect x="32" y="480" width="15" height="1.2" fill="#553" opacity="0.4"/>
<rect x="28.6" y="475.2" width="0.9" height="186.28" fill="#666"/>
<rect x="49.2" y="475.2" width="0.9" height="186.28" fill="#666"/>
</svg>
<div class="a" style="left:-0.5px;top:472.3px;width:146.3px;height:55px;border:3px solid #E80A3C;"></div>
</div></body></html>
